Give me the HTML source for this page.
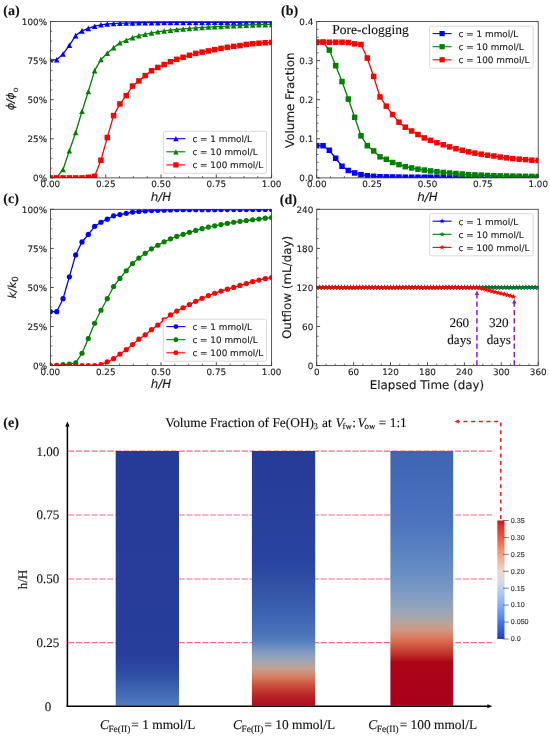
<!DOCTYPE html>
<html lang="en">
<head>
<meta charset="utf-8">
<title>Figure</title>
<style>
html,body{margin:0;padding:0;background:#fff;}
body{width:550px;height:738px;overflow:hidden;}
svg{display:block;}
text{stroke:#1a1a1a;stroke-width:0.13px;paint-order:stroke fill;}
</style>
</head>
<body>
<svg width="550" height="738" viewBox="0 0 550 738" text-rendering="geometricPrecision">
<rect width="550" height="738" fill="#fff"/>
<defs><clipPath id="clip_a"><rect x="50.40" y="21.50" width="221.20" height="156.40"/></clipPath><clipPath id="clip_b"><rect x="316.70" y="21.50" width="221.50" height="156.40"/></clipPath><clipPath id="clip_c"><rect x="50.40" y="209.30" width="221.20" height="156.30"/></clipPath><clipPath id="clip_d"><rect x="316.70" y="209.30" width="221.50" height="156.30"/></clipPath></defs>
<!-- panel a -->
<g clip-path="url(#clip_a)">
<polyline fill="none" stroke="#0000ff" stroke-width="1.30" stroke-linejoin="round" points="50.40,59.82 56.72,59.82 63.04,54.03 69.36,45.27 75.68,35.58 82.00,30.88 88.32,28.38 94.64,26.19 100.96,24.78 107.28,24.00 113.60,23.53 119.92,23.22 126.24,23.06 132.56,22.91 138.88,22.75 145.20,22.70 151.52,22.65 157.84,22.59 164.16,22.54 170.48,22.49 176.80,22.44 183.12,22.42 189.44,22.40 195.76,22.38 202.08,22.35 208.40,22.33 214.72,22.31 221.04,22.29 227.36,22.27 233.68,22.25 240.00,22.23 246.32,22.21 252.64,22.19 258.96,22.17 265.28,22.15 271.60,22.13"/>
<path d="M50.40 57.02L53.20 62.62L47.60 62.62Z" fill="#0000ff"/><path d="M56.72 57.02L59.52 62.62L53.92 62.62Z" fill="#0000ff"/><path d="M63.04 51.23L65.84 56.83L60.24 56.83Z" fill="#0000ff"/><path d="M69.36 42.47L72.16 48.07L66.56 48.07Z" fill="#0000ff"/><path d="M75.68 32.78L78.48 38.38L72.88 38.38Z" fill="#0000ff"/><path d="M82.00 28.08L84.80 33.68L79.20 33.68Z" fill="#0000ff"/><path d="M88.32 25.58L91.12 31.18L85.52 31.18Z" fill="#0000ff"/><path d="M94.64 23.39L97.44 28.99L91.84 28.99Z" fill="#0000ff"/><path d="M100.96 21.98L103.76 27.58L98.16 27.58Z" fill="#0000ff"/><path d="M107.28 21.20L110.08 26.80L104.48 26.80Z" fill="#0000ff"/><path d="M113.60 20.73L116.40 26.33L110.80 26.33Z" fill="#0000ff"/><path d="M119.92 20.42L122.72 26.02L117.12 26.02Z" fill="#0000ff"/><path d="M126.24 20.26L129.04 25.86L123.44 25.86Z" fill="#0000ff"/><path d="M132.56 20.11L135.36 25.71L129.76 25.71Z" fill="#0000ff"/><path d="M138.88 19.95L141.68 25.55L136.08 25.55Z" fill="#0000ff"/><path d="M145.20 19.90L148.00 25.50L142.40 25.50Z" fill="#0000ff"/><path d="M151.52 19.85L154.32 25.45L148.72 25.45Z" fill="#0000ff"/><path d="M157.84 19.79L160.64 25.39L155.04 25.39Z" fill="#0000ff"/><path d="M164.16 19.74L166.96 25.34L161.36 25.34Z" fill="#0000ff"/><path d="M170.48 19.69L173.28 25.29L167.68 25.29Z" fill="#0000ff"/><path d="M176.80 19.64L179.60 25.24L174.00 25.24Z" fill="#0000ff"/><path d="M183.12 19.62L185.92 25.22L180.32 25.22Z" fill="#0000ff"/><path d="M189.44 19.60L192.24 25.20L186.64 25.20Z" fill="#0000ff"/><path d="M195.76 19.58L198.56 25.18L192.96 25.18Z" fill="#0000ff"/><path d="M202.08 19.55L204.88 25.15L199.28 25.15Z" fill="#0000ff"/><path d="M208.40 19.53L211.20 25.13L205.60 25.13Z" fill="#0000ff"/><path d="M214.72 19.51L217.52 25.11L211.92 25.11Z" fill="#0000ff"/><path d="M221.04 19.49L223.84 25.09L218.24 25.09Z" fill="#0000ff"/><path d="M227.36 19.47L230.16 25.07L224.56 25.07Z" fill="#0000ff"/><path d="M233.68 19.45L236.48 25.05L230.88 25.05Z" fill="#0000ff"/><path d="M240.00 19.43L242.80 25.03L237.20 25.03Z" fill="#0000ff"/><path d="M246.32 19.41L249.12 25.01L243.52 25.01Z" fill="#0000ff"/><path d="M252.64 19.39L255.44 24.99L249.84 24.99Z" fill="#0000ff"/><path d="M258.96 19.37L261.76 24.97L256.16 24.97Z" fill="#0000ff"/><path d="M265.28 19.35L268.08 24.95L262.48 24.95Z" fill="#0000ff"/><path d="M271.60 19.33L274.40 24.93L268.80 24.93Z" fill="#0000ff"/></g>
<g clip-path="url(#clip_a)">
<polyline fill="none" stroke="#008000" stroke-width="1.30" stroke-linejoin="round" points="50.40,177.43 56.72,177.43 63.04,169.45 69.36,150.69 75.68,132.54 82.00,111.27 88.32,91.57 94.64,70.61 100.96,59.51 107.28,53.25 113.60,47.62 119.92,42.77 126.24,40.27 132.56,37.61 138.88,35.58 145.20,34.32 151.52,32.92 157.84,31.82 164.16,30.88 170.48,30.10 176.80,29.48 183.12,28.93 189.44,28.38 195.76,27.91 202.08,27.44 208.40,27.05 214.72,26.66 221.04,26.35 227.36,26.04 233.68,25.72 240.00,25.41 246.32,25.18 252.64,24.94 258.96,24.78 265.28,24.63 271.60,24.47"/>
<path d="M50.40 174.63L53.20 180.23L47.60 180.23Z" fill="#008000"/><path d="M56.72 174.63L59.52 180.23L53.92 180.23Z" fill="#008000"/><path d="M63.04 166.65L65.84 172.25L60.24 172.25Z" fill="#008000"/><path d="M69.36 147.89L72.16 153.49L66.56 153.49Z" fill="#008000"/><path d="M75.68 129.74L78.48 135.34L72.88 135.34Z" fill="#008000"/><path d="M82.00 108.47L84.80 114.07L79.20 114.07Z" fill="#008000"/><path d="M88.32 88.77L91.12 94.37L85.52 94.37Z" fill="#008000"/><path d="M94.64 67.81L97.44 73.41L91.84 73.41Z" fill="#008000"/><path d="M100.96 56.71L103.76 62.31L98.16 62.31Z" fill="#008000"/><path d="M107.28 50.45L110.08 56.05L104.48 56.05Z" fill="#008000"/><path d="M113.60 44.82L116.40 50.42L110.80 50.42Z" fill="#008000"/><path d="M119.92 39.97L122.72 45.57L117.12 45.57Z" fill="#008000"/><path d="M126.24 37.47L129.04 43.07L123.44 43.07Z" fill="#008000"/><path d="M132.56 34.81L135.36 40.41L129.76 40.41Z" fill="#008000"/><path d="M138.88 32.78L141.68 38.38L136.08 38.38Z" fill="#008000"/><path d="M145.20 31.52L148.00 37.12L142.40 37.12Z" fill="#008000"/><path d="M151.52 30.12L154.32 35.72L148.72 35.72Z" fill="#008000"/><path d="M157.84 29.02L160.64 34.62L155.04 34.62Z" fill="#008000"/><path d="M164.16 28.08L166.96 33.68L161.36 33.68Z" fill="#008000"/><path d="M170.48 27.30L173.28 32.90L167.68 32.90Z" fill="#008000"/><path d="M176.80 26.68L179.60 32.28L174.00 32.28Z" fill="#008000"/><path d="M183.12 26.13L185.92 31.73L180.32 31.73Z" fill="#008000"/><path d="M189.44 25.58L192.24 31.18L186.64 31.18Z" fill="#008000"/><path d="M195.76 25.11L198.56 30.71L192.96 30.71Z" fill="#008000"/><path d="M202.08 24.64L204.88 30.24L199.28 30.24Z" fill="#008000"/><path d="M208.40 24.25L211.20 29.85L205.60 29.85Z" fill="#008000"/><path d="M214.72 23.86L217.52 29.46L211.92 29.46Z" fill="#008000"/><path d="M221.04 23.55L223.84 29.15L218.24 29.15Z" fill="#008000"/><path d="M227.36 23.24L230.16 28.84L224.56 28.84Z" fill="#008000"/><path d="M233.68 22.92L236.48 28.52L230.88 28.52Z" fill="#008000"/><path d="M240.00 22.61L242.80 28.21L237.20 28.21Z" fill="#008000"/><path d="M246.32 22.38L249.12 27.98L243.52 27.98Z" fill="#008000"/><path d="M252.64 22.14L255.44 27.74L249.84 27.74Z" fill="#008000"/><path d="M258.96 21.98L261.76 27.58L256.16 27.58Z" fill="#008000"/><path d="M265.28 21.83L268.08 27.43L262.48 27.43Z" fill="#008000"/><path d="M271.60 21.67L274.40 27.27L268.80 27.27Z" fill="#008000"/></g>
<g clip-path="url(#clip_a)">
<polyline fill="none" stroke="#ff0000" stroke-width="1.30" stroke-linejoin="round" points="50.40,177.90 56.72,177.90 63.04,177.90 69.36,177.90 75.68,177.90 82.00,177.90 88.32,177.27 94.64,176.34 100.96,160.23 107.28,137.55 113.60,115.65 119.92,103.92 126.24,95.63 132.56,86.09 138.88,80.93 145.20,75.61 151.52,70.77 157.84,67.48 164.16,64.51 170.48,61.69 176.80,59.35 183.12,57.32 189.44,55.28 195.76,53.41 202.08,52.15 208.40,50.90 214.72,49.65 221.04,48.40 227.36,47.31 233.68,46.37 240.00,45.59 246.32,44.49 252.64,43.71 258.96,43.24 265.28,42.77 271.60,42.46"/>
<rect x="47.65" y="175.15" width="5.50" height="5.50" fill="#ff0000"/><rect x="53.97" y="175.15" width="5.50" height="5.50" fill="#ff0000"/><rect x="60.29" y="175.15" width="5.50" height="5.50" fill="#ff0000"/><rect x="66.61" y="175.15" width="5.50" height="5.50" fill="#ff0000"/><rect x="72.93" y="175.15" width="5.50" height="5.50" fill="#ff0000"/><rect x="79.25" y="175.15" width="5.50" height="5.50" fill="#ff0000"/><rect x="85.57" y="174.52" width="5.50" height="5.50" fill="#ff0000"/><rect x="91.89" y="173.59" width="5.50" height="5.50" fill="#ff0000"/><rect x="98.21" y="157.48" width="5.50" height="5.50" fill="#ff0000"/><rect x="104.53" y="134.80" width="5.50" height="5.50" fill="#ff0000"/><rect x="110.85" y="112.90" width="5.50" height="5.50" fill="#ff0000"/><rect x="117.17" y="101.17" width="5.50" height="5.50" fill="#ff0000"/><rect x="123.49" y="92.88" width="5.50" height="5.50" fill="#ff0000"/><rect x="129.81" y="83.34" width="5.50" height="5.50" fill="#ff0000"/><rect x="136.13" y="78.18" width="5.50" height="5.50" fill="#ff0000"/><rect x="142.45" y="72.86" width="5.50" height="5.50" fill="#ff0000"/><rect x="148.77" y="68.02" width="5.50" height="5.50" fill="#ff0000"/><rect x="155.09" y="64.73" width="5.50" height="5.50" fill="#ff0000"/><rect x="161.41" y="61.76" width="5.50" height="5.50" fill="#ff0000"/><rect x="167.73" y="58.94" width="5.50" height="5.50" fill="#ff0000"/><rect x="174.05" y="56.60" width="5.50" height="5.50" fill="#ff0000"/><rect x="180.37" y="54.57" width="5.50" height="5.50" fill="#ff0000"/><rect x="186.69" y="52.53" width="5.50" height="5.50" fill="#ff0000"/><rect x="193.01" y="50.66" width="5.50" height="5.50" fill="#ff0000"/><rect x="199.33" y="49.40" width="5.50" height="5.50" fill="#ff0000"/><rect x="205.65" y="48.15" width="5.50" height="5.50" fill="#ff0000"/><rect x="211.97" y="46.90" width="5.50" height="5.50" fill="#ff0000"/><rect x="218.29" y="45.65" width="5.50" height="5.50" fill="#ff0000"/><rect x="224.61" y="44.56" width="5.50" height="5.50" fill="#ff0000"/><rect x="230.93" y="43.62" width="5.50" height="5.50" fill="#ff0000"/><rect x="237.25" y="42.84" width="5.50" height="5.50" fill="#ff0000"/><rect x="243.57" y="41.74" width="5.50" height="5.50" fill="#ff0000"/><rect x="249.89" y="40.96" width="5.50" height="5.50" fill="#ff0000"/><rect x="256.21" y="40.49" width="5.50" height="5.50" fill="#ff0000"/><rect x="262.53" y="40.02" width="5.50" height="5.50" fill="#ff0000"/><rect x="268.85" y="39.71" width="5.50" height="5.50" fill="#ff0000"/></g>
<path d="M50.40 177.90v-3.40M105.70 177.90v-3.40M161.00 177.90v-3.40M216.30 177.90v-3.40M271.60 177.90v-3.40M50.40 177.90h3.40M50.40 138.80h3.40M50.40 99.70h3.40M50.40 60.60h3.40M50.40 21.50h3.40" stroke="#3a3a3a" stroke-width="0.9" fill="none"/>
<path d="M64.22 177.90v-1.90M78.05 177.90v-1.90M91.88 177.90v-1.90M119.53 177.90v-1.90M133.35 177.90v-1.90M147.18 177.90v-1.90M174.83 177.90v-1.90M188.65 177.90v-1.90M202.48 177.90v-1.90M230.13 177.90v-1.90M243.95 177.90v-1.90M257.78 177.90v-1.90M50.40 168.12h1.90M50.40 158.35h1.90M50.40 148.57h1.90M50.40 129.03h1.90M50.40 119.25h1.90M50.40 109.48h1.90M50.40 89.92h1.90M50.40 80.15h1.90M50.40 70.38h1.90M50.40 50.83h1.90M50.40 41.05h1.90M50.40 31.28h1.90" stroke="#3a3a3a" stroke-width="0.7" fill="none"/>
<rect x="50.40" y="21.50" width="221.20" height="156.40" fill="none" stroke="#3a3a3a" stroke-width="0.85"/>
<g font-family="DejaVu Sans, Liberation Sans, sans-serif" font-size="8.8" fill="#1a1a1a">
<text x="50.40" y="187.40" text-anchor="middle">0.00</text>
<text x="105.70" y="187.40" text-anchor="middle">0.25</text>
<text x="161.00" y="187.40" text-anchor="middle">0.50</text>
<text x="216.30" y="187.40" text-anchor="middle">0.75</text>
<text x="271.60" y="187.40" text-anchor="middle">1.00</text>
<text x="47.00" y="181.40" text-anchor="end">0%</text>
<text x="47.00" y="142.30" text-anchor="end">25%</text>
<text x="47.00" y="103.20" text-anchor="end">50%</text>
<text x="47.00" y="64.10" text-anchor="end">75%</text>
<text x="47.00" y="25.00" text-anchor="end">100%</text>
</g>
<rect x="163.40" y="131.30" width="103.10" height="42.00" rx="1.6" fill="#fff" fill-opacity="0.8" stroke="#d0d0d0" stroke-width="0.8"/>
<path d="M166.40 138.70h19" stroke="#0000ff" stroke-width="1.1"/>
<path d="M175.90 136.04L178.56 141.36L173.24 141.36Z" fill="#0000ff"/>
<text x="192.40" y="142.00" font-family="DejaVu Sans, Liberation Sans, sans-serif" font-size="8.9" fill="#1a1a1a">c = 1 mmol/L</text>
<path d="M166.40 151.80h19" stroke="#008000" stroke-width="1.1"/>
<path d="M175.90 149.14L178.56 154.46L173.24 154.46Z" fill="#008000"/>
<text x="192.40" y="155.10" font-family="DejaVu Sans, Liberation Sans, sans-serif" font-size="8.9" fill="#1a1a1a">c = 10 mmol/L</text>
<path d="M166.40 164.90h19" stroke="#ff0000" stroke-width="1.1"/>
<rect x="173.29" y="162.29" width="5.22" height="5.22" fill="#ff0000"/>
<text x="192.40" y="168.20" font-family="DejaVu Sans, Liberation Sans, sans-serif" font-size="8.9" fill="#1a1a1a">c = 100 mmol/L</text>
<text x="3.30" y="14.90" font-family="Liberation Serif, DejaVu Serif, serif" font-size="14" font-weight="bold" fill="#111">(a)</text>
<text x="161" y="201" text-anchor="middle" font-family="DejaVu Sans, Liberation Sans, sans-serif" font-size="11.9" font-style="italic" fill="#1a1a1a">h/H</text>
<text transform="translate(14.4 98.8) rotate(-90)" text-anchor="middle" font-family="DejaVu Sans, Liberation Sans, sans-serif" font-size="10.7" font-style="italic" fill="#1a1a1a">ϕ/ϕ<tspan font-size="7.8" dy="3.2" font-style="normal">o</tspan></text>
<!-- panel b -->
<g clip-path="url(#clip_b)">
<polyline fill="none" stroke="#0000ff" stroke-width="1.30" stroke-linejoin="round" points="316.70,145.68 323.03,145.68 329.36,150.30 335.69,158.27 342.01,166.25 348.34,170.47 354.67,172.97 361.00,174.65 367.33,175.71 373.66,176.34 379.99,176.73 386.31,176.84 392.64,176.96 398.97,177.08 405.30,177.20 411.63,177.21 417.96,177.23 424.29,177.24 430.61,177.26 436.94,177.27 443.27,177.29 449.60,177.30 455.93,177.32 462.26,177.33 468.59,177.35 474.91,177.36 481.24,177.37 487.57,177.39 493.90,177.40 500.23,177.42 506.56,177.43 512.89,177.45 519.21,177.46 525.54,177.48 531.87,177.49 538.20,177.51"/>
<rect x="313.95" y="142.93" width="5.50" height="5.50" fill="#0000ff"/><rect x="320.28" y="142.93" width="5.50" height="5.50" fill="#0000ff"/><rect x="326.61" y="147.55" width="5.50" height="5.50" fill="#0000ff"/><rect x="332.94" y="155.52" width="5.50" height="5.50" fill="#0000ff"/><rect x="339.26" y="163.50" width="5.50" height="5.50" fill="#0000ff"/><rect x="345.59" y="167.72" width="5.50" height="5.50" fill="#0000ff"/><rect x="351.92" y="170.22" width="5.50" height="5.50" fill="#0000ff"/><rect x="358.25" y="171.90" width="5.50" height="5.50" fill="#0000ff"/><rect x="364.58" y="172.96" width="5.50" height="5.50" fill="#0000ff"/><rect x="370.91" y="173.59" width="5.50" height="5.50" fill="#0000ff"/><rect x="377.24" y="173.98" width="5.50" height="5.50" fill="#0000ff"/><rect x="383.56" y="174.09" width="5.50" height="5.50" fill="#0000ff"/><rect x="389.89" y="174.21" width="5.50" height="5.50" fill="#0000ff"/><rect x="396.22" y="174.33" width="5.50" height="5.50" fill="#0000ff"/><rect x="402.55" y="174.45" width="5.50" height="5.50" fill="#0000ff"/><rect x="408.88" y="174.46" width="5.50" height="5.50" fill="#0000ff"/><rect x="415.21" y="174.48" width="5.50" height="5.50" fill="#0000ff"/><rect x="421.54" y="174.49" width="5.50" height="5.50" fill="#0000ff"/><rect x="427.86" y="174.51" width="5.50" height="5.50" fill="#0000ff"/><rect x="434.19" y="174.52" width="5.50" height="5.50" fill="#0000ff"/><rect x="440.52" y="174.54" width="5.50" height="5.50" fill="#0000ff"/><rect x="446.85" y="174.55" width="5.50" height="5.50" fill="#0000ff"/><rect x="453.18" y="174.57" width="5.50" height="5.50" fill="#0000ff"/><rect x="459.51" y="174.58" width="5.50" height="5.50" fill="#0000ff"/><rect x="465.84" y="174.60" width="5.50" height="5.50" fill="#0000ff"/><rect x="472.16" y="174.61" width="5.50" height="5.50" fill="#0000ff"/><rect x="478.49" y="174.62" width="5.50" height="5.50" fill="#0000ff"/><rect x="484.82" y="174.64" width="5.50" height="5.50" fill="#0000ff"/><rect x="491.15" y="174.65" width="5.50" height="5.50" fill="#0000ff"/><rect x="497.48" y="174.67" width="5.50" height="5.50" fill="#0000ff"/><rect x="503.81" y="174.68" width="5.50" height="5.50" fill="#0000ff"/><rect x="510.14" y="174.70" width="5.50" height="5.50" fill="#0000ff"/><rect x="516.46" y="174.71" width="5.50" height="5.50" fill="#0000ff"/><rect x="522.79" y="174.73" width="5.50" height="5.50" fill="#0000ff"/><rect x="529.12" y="174.74" width="5.50" height="5.50" fill="#0000ff"/><rect x="535.45" y="174.76" width="5.50" height="5.50" fill="#0000ff"/></g>
<g clip-path="url(#clip_b)">
<polyline fill="none" stroke="#008000" stroke-width="1.30" stroke-linejoin="round" points="316.70,42.22 323.03,42.22 329.36,50.12 335.69,65.68 342.01,81.56 348.34,99.07 354.67,117.33 361.00,135.83 367.33,145.68 373.66,150.92 379.99,156.83 386.31,159.33 392.64,162.49 398.97,164.61 405.30,166.68 411.63,167.93 417.96,169.18 424.29,170.08 430.61,170.94 436.94,171.72 443.27,172.43 449.60,173.01 455.93,173.53 462.26,174.06 468.59,174.58 474.91,174.87 481.24,175.16 487.57,175.46 493.90,175.75 500.23,175.86 506.56,175.97 512.89,176.08 519.21,176.20 525.54,176.31 531.87,176.42 538.20,176.53"/>
<rect x="313.95" y="39.47" width="5.50" height="5.50" fill="#008000"/><rect x="320.28" y="39.47" width="5.50" height="5.50" fill="#008000"/><rect x="326.61" y="47.37" width="5.50" height="5.50" fill="#008000"/><rect x="332.94" y="62.93" width="5.50" height="5.50" fill="#008000"/><rect x="339.26" y="78.81" width="5.50" height="5.50" fill="#008000"/><rect x="345.59" y="96.32" width="5.50" height="5.50" fill="#008000"/><rect x="351.92" y="114.58" width="5.50" height="5.50" fill="#008000"/><rect x="358.25" y="133.08" width="5.50" height="5.50" fill="#008000"/><rect x="364.58" y="142.93" width="5.50" height="5.50" fill="#008000"/><rect x="370.91" y="148.17" width="5.50" height="5.50" fill="#008000"/><rect x="377.24" y="154.08" width="5.50" height="5.50" fill="#008000"/><rect x="383.56" y="156.58" width="5.50" height="5.50" fill="#008000"/><rect x="389.89" y="159.74" width="5.50" height="5.50" fill="#008000"/><rect x="396.22" y="161.86" width="5.50" height="5.50" fill="#008000"/><rect x="402.55" y="163.93" width="5.50" height="5.50" fill="#008000"/><rect x="408.88" y="165.18" width="5.50" height="5.50" fill="#008000"/><rect x="415.21" y="166.43" width="5.50" height="5.50" fill="#008000"/><rect x="421.54" y="167.33" width="5.50" height="5.50" fill="#008000"/><rect x="427.86" y="168.19" width="5.50" height="5.50" fill="#008000"/><rect x="434.19" y="168.97" width="5.50" height="5.50" fill="#008000"/><rect x="440.52" y="169.68" width="5.50" height="5.50" fill="#008000"/><rect x="446.85" y="170.26" width="5.50" height="5.50" fill="#008000"/><rect x="453.18" y="170.78" width="5.50" height="5.50" fill="#008000"/><rect x="459.51" y="171.31" width="5.50" height="5.50" fill="#008000"/><rect x="465.84" y="171.83" width="5.50" height="5.50" fill="#008000"/><rect x="472.16" y="172.12" width="5.50" height="5.50" fill="#008000"/><rect x="478.49" y="172.41" width="5.50" height="5.50" fill="#008000"/><rect x="484.82" y="172.71" width="5.50" height="5.50" fill="#008000"/><rect x="491.15" y="173.00" width="5.50" height="5.50" fill="#008000"/><rect x="497.48" y="173.11" width="5.50" height="5.50" fill="#008000"/><rect x="503.81" y="173.22" width="5.50" height="5.50" fill="#008000"/><rect x="510.14" y="173.33" width="5.50" height="5.50" fill="#008000"/><rect x="516.46" y="173.45" width="5.50" height="5.50" fill="#008000"/><rect x="522.79" y="173.56" width="5.50" height="5.50" fill="#008000"/><rect x="529.12" y="173.67" width="5.50" height="5.50" fill="#008000"/><rect x="535.45" y="173.78" width="5.50" height="5.50" fill="#008000"/></g>
<g clip-path="url(#clip_b)">
<polyline fill="none" stroke="#ff0000" stroke-width="1.30" stroke-linejoin="round" points="316.70,42.22 323.03,42.22 329.36,42.22 335.69,42.22 342.01,42.22 348.34,42.54 354.67,43.87 361.00,44.49 367.33,58.06 373.66,76.44 379.99,96.96 386.31,106.19 392.64,114.56 398.97,122.18 405.30,127.19 411.63,130.98 417.96,134.50 424.29,137.90 430.61,140.36 436.94,142.71 443.27,144.78 449.60,146.89 455.93,148.69 462.26,150.26 468.59,151.82 474.91,153.15 481.24,154.17 487.57,155.22 493.90,156.00 500.23,157.06 506.56,157.84 512.89,158.62 519.21,159.13 525.54,159.64 531.87,160.19 538.20,160.42"/>
<rect x="313.95" y="39.47" width="5.50" height="5.50" fill="#ff0000"/><rect x="320.28" y="39.47" width="5.50" height="5.50" fill="#ff0000"/><rect x="326.61" y="39.47" width="5.50" height="5.50" fill="#ff0000"/><rect x="332.94" y="39.47" width="5.50" height="5.50" fill="#ff0000"/><rect x="339.26" y="39.47" width="5.50" height="5.50" fill="#ff0000"/><rect x="345.59" y="39.79" width="5.50" height="5.50" fill="#ff0000"/><rect x="351.92" y="41.12" width="5.50" height="5.50" fill="#ff0000"/><rect x="358.25" y="41.74" width="5.50" height="5.50" fill="#ff0000"/><rect x="364.58" y="55.31" width="5.50" height="5.50" fill="#ff0000"/><rect x="370.91" y="73.69" width="5.50" height="5.50" fill="#ff0000"/><rect x="377.24" y="94.21" width="5.50" height="5.50" fill="#ff0000"/><rect x="383.56" y="103.44" width="5.50" height="5.50" fill="#ff0000"/><rect x="389.89" y="111.81" width="5.50" height="5.50" fill="#ff0000"/><rect x="396.22" y="119.43" width="5.50" height="5.50" fill="#ff0000"/><rect x="402.55" y="124.44" width="5.50" height="5.50" fill="#ff0000"/><rect x="408.88" y="128.23" width="5.50" height="5.50" fill="#ff0000"/><rect x="415.21" y="131.75" width="5.50" height="5.50" fill="#ff0000"/><rect x="421.54" y="135.15" width="5.50" height="5.50" fill="#ff0000"/><rect x="427.86" y="137.61" width="5.50" height="5.50" fill="#ff0000"/><rect x="434.19" y="139.96" width="5.50" height="5.50" fill="#ff0000"/><rect x="440.52" y="142.03" width="5.50" height="5.50" fill="#ff0000"/><rect x="446.85" y="144.14" width="5.50" height="5.50" fill="#ff0000"/><rect x="453.18" y="145.94" width="5.50" height="5.50" fill="#ff0000"/><rect x="459.51" y="147.51" width="5.50" height="5.50" fill="#ff0000"/><rect x="465.84" y="149.07" width="5.50" height="5.50" fill="#ff0000"/><rect x="472.16" y="150.40" width="5.50" height="5.50" fill="#ff0000"/><rect x="478.49" y="151.42" width="5.50" height="5.50" fill="#ff0000"/><rect x="484.82" y="152.47" width="5.50" height="5.50" fill="#ff0000"/><rect x="491.15" y="153.25" width="5.50" height="5.50" fill="#ff0000"/><rect x="497.48" y="154.31" width="5.50" height="5.50" fill="#ff0000"/><rect x="503.81" y="155.09" width="5.50" height="5.50" fill="#ff0000"/><rect x="510.14" y="155.87" width="5.50" height="5.50" fill="#ff0000"/><rect x="516.46" y="156.38" width="5.50" height="5.50" fill="#ff0000"/><rect x="522.79" y="156.89" width="5.50" height="5.50" fill="#ff0000"/><rect x="529.12" y="157.44" width="5.50" height="5.50" fill="#ff0000"/><rect x="535.45" y="157.67" width="5.50" height="5.50" fill="#ff0000"/></g>
<path d="M316.70 177.90v-3.40M372.07 177.90v-3.40M427.45 177.90v-3.40M482.83 177.90v-3.40M538.20 177.90v-3.40M316.70 177.90h3.40M316.70 138.80h3.40M316.70 99.70h3.40M316.70 60.60h3.40M316.70 21.50h3.40" stroke="#3a3a3a" stroke-width="0.9" fill="none"/>
<path d="M330.54 177.90v-1.90M344.39 177.90v-1.90M358.23 177.90v-1.90M385.92 177.90v-1.90M399.76 177.90v-1.90M413.61 177.90v-1.90M441.29 177.90v-1.90M455.14 177.90v-1.90M468.98 177.90v-1.90M496.67 177.90v-1.90M510.51 177.90v-1.90M524.36 177.90v-1.90M316.70 170.08h1.90M316.70 162.26h1.90M316.70 154.44h1.90M316.70 146.62h1.90M316.70 130.98h1.90M316.70 123.16h1.90M316.70 115.34h1.90M316.70 107.52h1.90M316.70 91.88h1.90M316.70 84.06h1.90M316.70 76.24h1.90M316.70 68.42h1.90M316.70 52.78h1.90M316.70 44.96h1.90M316.70 37.14h1.90M316.70 29.32h1.90" stroke="#3a3a3a" stroke-width="0.7" fill="none"/>
<rect x="316.70" y="21.50" width="221.50" height="156.40" fill="none" stroke="#3a3a3a" stroke-width="0.85"/>
<g font-family="DejaVu Sans, Liberation Sans, sans-serif" font-size="8.8" fill="#1a1a1a">
<text x="316.70" y="187.40" text-anchor="middle">0.00</text>
<text x="372.07" y="187.40" text-anchor="middle">0.25</text>
<text x="427.45" y="187.40" text-anchor="middle">0.50</text>
<text x="482.83" y="187.40" text-anchor="middle">0.75</text>
<text x="538.20" y="187.40" text-anchor="middle">1.00</text>
<text x="313.30" y="181.40" text-anchor="end">0.0</text>
<text x="313.30" y="142.30" text-anchor="end">0.1</text>
<text x="313.30" y="103.20" text-anchor="end">0.2</text>
<text x="313.30" y="64.10" text-anchor="end">0.3</text>
<text x="313.30" y="25.00" text-anchor="end">0.4</text>
</g>
<rect x="429.60" y="26.20" width="103.60" height="42.00" rx="1.6" fill="#fff" fill-opacity="0.8" stroke="#d0d0d0" stroke-width="0.8"/>
<path d="M432.60 33.60h19" stroke="#0000ff" stroke-width="1.1"/>
<rect x="439.49" y="30.99" width="5.22" height="5.22" fill="#0000ff"/>
<text x="458.60" y="36.90" font-family="DejaVu Sans, Liberation Sans, sans-serif" font-size="8.9" fill="#1a1a1a">c = 1 mmol/L</text>
<path d="M432.60 46.70h19" stroke="#008000" stroke-width="1.1"/>
<rect x="439.49" y="44.09" width="5.22" height="5.22" fill="#008000"/>
<text x="458.60" y="50.00" font-family="DejaVu Sans, Liberation Sans, sans-serif" font-size="8.9" fill="#1a1a1a">c = 10 mmol/L</text>
<path d="M432.60 59.80h19" stroke="#ff0000" stroke-width="1.1"/>
<rect x="439.49" y="57.19" width="5.22" height="5.22" fill="#ff0000"/>
<text x="458.60" y="63.10" font-family="DejaVu Sans, Liberation Sans, sans-serif" font-size="8.9" fill="#1a1a1a">c = 100 mmol/L</text>
<text x="281.00" y="14.90" font-family="Liberation Serif, DejaVu Serif, serif" font-size="14" font-weight="bold" fill="#111">(b)</text>
<text x="427.5" y="201" text-anchor="middle" font-family="DejaVu Sans, Liberation Sans, sans-serif" font-size="11.9" font-style="italic" fill="#1a1a1a">h/H</text>
<text transform="translate(293.8 100.2) rotate(-90)" text-anchor="middle" font-family="DejaVu Sans, Liberation Sans, sans-serif" font-size="11.9" fill="#1a1a1a">Volume Fraction</text>
<text x="332.3" y="34.3" font-family="Liberation Serif, DejaVu Serif, serif" font-size="13.5" fill="#111">Pore-clogging</text>
<!-- panel c -->
<g clip-path="url(#clip_c)">
<polyline fill="none" stroke="#0000ff" stroke-width="1.30" stroke-linejoin="round" points="50.40,311.68 56.72,311.68 63.04,298.70 69.36,276.82 75.68,254.94 82.00,241.97 88.32,234.46 94.64,226.34 100.96,222.27 107.28,219.15 113.60,215.86 119.92,214.61 126.24,213.36 132.56,212.11 138.88,211.49 145.20,211.02 151.52,210.55 157.84,210.36 164.16,210.16 170.48,209.96 176.80,209.77 183.12,209.75 189.44,209.73 195.76,209.71 202.08,209.69 208.40,209.66 214.72,209.64 221.04,209.62 227.36,209.60 233.68,209.58 240.00,209.56 246.32,209.54 252.64,209.52 258.96,209.50 265.28,209.48 271.60,209.46"/>
<circle cx="50.40" cy="311.68" r="2.60" fill="#0000ff"/><circle cx="56.72" cy="311.68" r="2.60" fill="#0000ff"/><circle cx="63.04" cy="298.70" r="2.60" fill="#0000ff"/><circle cx="69.36" cy="276.82" r="2.60" fill="#0000ff"/><circle cx="75.68" cy="254.94" r="2.60" fill="#0000ff"/><circle cx="82.00" cy="241.97" r="2.60" fill="#0000ff"/><circle cx="88.32" cy="234.46" r="2.60" fill="#0000ff"/><circle cx="94.64" cy="226.34" r="2.60" fill="#0000ff"/><circle cx="100.96" cy="222.27" r="2.60" fill="#0000ff"/><circle cx="107.28" cy="219.15" r="2.60" fill="#0000ff"/><circle cx="113.60" cy="215.86" r="2.60" fill="#0000ff"/><circle cx="119.92" cy="214.61" r="2.60" fill="#0000ff"/><circle cx="126.24" cy="213.36" r="2.60" fill="#0000ff"/><circle cx="132.56" cy="212.11" r="2.60" fill="#0000ff"/><circle cx="138.88" cy="211.49" r="2.60" fill="#0000ff"/><circle cx="145.20" cy="211.02" r="2.60" fill="#0000ff"/><circle cx="151.52" cy="210.55" r="2.60" fill="#0000ff"/><circle cx="157.84" cy="210.36" r="2.60" fill="#0000ff"/><circle cx="164.16" cy="210.16" r="2.60" fill="#0000ff"/><circle cx="170.48" cy="209.96" r="2.60" fill="#0000ff"/><circle cx="176.80" cy="209.77" r="2.60" fill="#0000ff"/><circle cx="183.12" cy="209.75" r="2.60" fill="#0000ff"/><circle cx="189.44" cy="209.73" r="2.60" fill="#0000ff"/><circle cx="195.76" cy="209.71" r="2.60" fill="#0000ff"/><circle cx="202.08" cy="209.69" r="2.60" fill="#0000ff"/><circle cx="208.40" cy="209.66" r="2.60" fill="#0000ff"/><circle cx="214.72" cy="209.64" r="2.60" fill="#0000ff"/><circle cx="221.04" cy="209.62" r="2.60" fill="#0000ff"/><circle cx="227.36" cy="209.60" r="2.60" fill="#0000ff"/><circle cx="233.68" cy="209.58" r="2.60" fill="#0000ff"/><circle cx="240.00" cy="209.56" r="2.60" fill="#0000ff"/><circle cx="246.32" cy="209.54" r="2.60" fill="#0000ff"/><circle cx="252.64" cy="209.52" r="2.60" fill="#0000ff"/><circle cx="258.96" cy="209.50" r="2.60" fill="#0000ff"/><circle cx="265.28" cy="209.48" r="2.60" fill="#0000ff"/><circle cx="271.60" cy="209.46" r="2.60" fill="#0000ff"/></g>
<g clip-path="url(#clip_c)">
<polyline fill="none" stroke="#008000" stroke-width="1.30" stroke-linejoin="round" points="50.40,365.60 56.72,365.29 63.04,364.66 69.36,364.04 75.68,362.79 82.00,353.25 88.32,338.56 94.64,323.24 100.96,310.27 107.28,298.70 113.60,286.51 119.92,278.38 126.24,270.73 132.56,263.54 138.88,258.07 145.20,253.45 151.52,248.84 157.84,245.25 164.16,241.81 170.48,238.84 176.80,236.34 183.12,234.31 189.44,232.28 195.76,230.40 202.08,228.68 208.40,227.12 214.72,225.87 221.04,224.62 227.36,223.37 233.68,222.27 240.00,221.34 246.32,220.55 252.64,219.77 258.96,218.99 265.28,218.21 271.60,217.58"/>
<circle cx="50.40" cy="365.60" r="2.60" fill="#008000"/><circle cx="56.72" cy="365.29" r="2.60" fill="#008000"/><circle cx="63.04" cy="364.66" r="2.60" fill="#008000"/><circle cx="69.36" cy="364.04" r="2.60" fill="#008000"/><circle cx="75.68" cy="362.79" r="2.60" fill="#008000"/><circle cx="82.00" cy="353.25" r="2.60" fill="#008000"/><circle cx="88.32" cy="338.56" r="2.60" fill="#008000"/><circle cx="94.64" cy="323.24" r="2.60" fill="#008000"/><circle cx="100.96" cy="310.27" r="2.60" fill="#008000"/><circle cx="107.28" cy="298.70" r="2.60" fill="#008000"/><circle cx="113.60" cy="286.51" r="2.60" fill="#008000"/><circle cx="119.92" cy="278.38" r="2.60" fill="#008000"/><circle cx="126.24" cy="270.73" r="2.60" fill="#008000"/><circle cx="132.56" cy="263.54" r="2.60" fill="#008000"/><circle cx="138.88" cy="258.07" r="2.60" fill="#008000"/><circle cx="145.20" cy="253.45" r="2.60" fill="#008000"/><circle cx="151.52" cy="248.84" r="2.60" fill="#008000"/><circle cx="157.84" cy="245.25" r="2.60" fill="#008000"/><circle cx="164.16" cy="241.81" r="2.60" fill="#008000"/><circle cx="170.48" cy="238.84" r="2.60" fill="#008000"/><circle cx="176.80" cy="236.34" r="2.60" fill="#008000"/><circle cx="183.12" cy="234.31" r="2.60" fill="#008000"/><circle cx="189.44" cy="232.28" r="2.60" fill="#008000"/><circle cx="195.76" cy="230.40" r="2.60" fill="#008000"/><circle cx="202.08" cy="228.68" r="2.60" fill="#008000"/><circle cx="208.40" cy="227.12" r="2.60" fill="#008000"/><circle cx="214.72" cy="225.87" r="2.60" fill="#008000"/><circle cx="221.04" cy="224.62" r="2.60" fill="#008000"/><circle cx="227.36" cy="223.37" r="2.60" fill="#008000"/><circle cx="233.68" cy="222.27" r="2.60" fill="#008000"/><circle cx="240.00" cy="221.34" r="2.60" fill="#008000"/><circle cx="246.32" cy="220.55" r="2.60" fill="#008000"/><circle cx="252.64" cy="219.77" r="2.60" fill="#008000"/><circle cx="258.96" cy="218.99" r="2.60" fill="#008000"/><circle cx="265.28" cy="218.21" r="2.60" fill="#008000"/><circle cx="271.60" cy="217.58" r="2.60" fill="#008000"/></g>
<g clip-path="url(#clip_c)">
<polyline fill="none" stroke="#ff0000" stroke-width="1.30" stroke-linejoin="round" points="50.40,365.60 56.72,365.60 63.04,365.60 69.36,365.60 75.68,365.60 82.00,365.60 88.32,365.60 94.64,365.60 100.96,364.66 107.28,361.85 113.60,358.72 119.92,354.03 126.24,349.66 132.56,344.50 138.88,339.19 145.20,334.81 151.52,329.65 157.84,325.12 164.16,319.96 170.48,314.96 176.80,311.05 183.12,307.77 189.44,304.49 195.76,301.36 202.08,298.23 208.40,295.58 214.72,293.23 221.04,291.04 227.36,289.17 233.68,287.45 240.00,285.42 246.32,283.54 252.64,281.67 258.96,280.10 265.28,278.70 271.60,277.60"/>
<circle cx="50.40" cy="365.60" r="2.60" fill="#ff0000"/><circle cx="56.72" cy="365.60" r="2.60" fill="#ff0000"/><circle cx="63.04" cy="365.60" r="2.60" fill="#ff0000"/><circle cx="69.36" cy="365.60" r="2.60" fill="#ff0000"/><circle cx="75.68" cy="365.60" r="2.60" fill="#ff0000"/><circle cx="82.00" cy="365.60" r="2.60" fill="#ff0000"/><circle cx="88.32" cy="365.60" r="2.60" fill="#ff0000"/><circle cx="94.64" cy="365.60" r="2.60" fill="#ff0000"/><circle cx="100.96" cy="364.66" r="2.60" fill="#ff0000"/><circle cx="107.28" cy="361.85" r="2.60" fill="#ff0000"/><circle cx="113.60" cy="358.72" r="2.60" fill="#ff0000"/><circle cx="119.92" cy="354.03" r="2.60" fill="#ff0000"/><circle cx="126.24" cy="349.66" r="2.60" fill="#ff0000"/><circle cx="132.56" cy="344.50" r="2.60" fill="#ff0000"/><circle cx="138.88" cy="339.19" r="2.60" fill="#ff0000"/><circle cx="145.20" cy="334.81" r="2.60" fill="#ff0000"/><circle cx="151.52" cy="329.65" r="2.60" fill="#ff0000"/><circle cx="157.84" cy="325.12" r="2.60" fill="#ff0000"/><circle cx="164.16" cy="319.96" r="2.60" fill="#ff0000"/><circle cx="170.48" cy="314.96" r="2.60" fill="#ff0000"/><circle cx="176.80" cy="311.05" r="2.60" fill="#ff0000"/><circle cx="183.12" cy="307.77" r="2.60" fill="#ff0000"/><circle cx="189.44" cy="304.49" r="2.60" fill="#ff0000"/><circle cx="195.76" cy="301.36" r="2.60" fill="#ff0000"/><circle cx="202.08" cy="298.23" r="2.60" fill="#ff0000"/><circle cx="208.40" cy="295.58" r="2.60" fill="#ff0000"/><circle cx="214.72" cy="293.23" r="2.60" fill="#ff0000"/><circle cx="221.04" cy="291.04" r="2.60" fill="#ff0000"/><circle cx="227.36" cy="289.17" r="2.60" fill="#ff0000"/><circle cx="233.68" cy="287.45" r="2.60" fill="#ff0000"/><circle cx="240.00" cy="285.42" r="2.60" fill="#ff0000"/><circle cx="246.32" cy="283.54" r="2.60" fill="#ff0000"/><circle cx="252.64" cy="281.67" r="2.60" fill="#ff0000"/><circle cx="258.96" cy="280.10" r="2.60" fill="#ff0000"/><circle cx="265.28" cy="278.70" r="2.60" fill="#ff0000"/><circle cx="271.60" cy="277.60" r="2.60" fill="#ff0000"/></g>
<path d="M50.40 365.60v-3.40M105.70 365.60v-3.40M161.00 365.60v-3.40M216.30 365.60v-3.40M271.60 365.60v-3.40M50.40 365.60h3.40M50.40 326.53h3.40M50.40 287.45h3.40M50.40 248.38h3.40M50.40 209.30h3.40" stroke="#3a3a3a" stroke-width="0.9" fill="none"/>
<path d="M64.22 365.60v-1.90M78.05 365.60v-1.90M91.88 365.60v-1.90M119.53 365.60v-1.90M133.35 365.60v-1.90M147.18 365.60v-1.90M174.83 365.60v-1.90M188.65 365.60v-1.90M202.48 365.60v-1.90M230.13 365.60v-1.90M243.95 365.60v-1.90M257.78 365.60v-1.90M50.40 355.83h1.90M50.40 346.06h1.90M50.40 336.29h1.90M50.40 316.76h1.90M50.40 306.99h1.90M50.40 297.22h1.90M50.40 277.68h1.90M50.40 267.91h1.90M50.40 258.14h1.90M50.40 238.61h1.90M50.40 228.84h1.90M50.40 219.07h1.90" stroke="#3a3a3a" stroke-width="0.7" fill="none"/>
<rect x="50.40" y="209.30" width="221.20" height="156.30" fill="none" stroke="#3a3a3a" stroke-width="0.85"/>
<g font-family="DejaVu Sans, Liberation Sans, sans-serif" font-size="8.8" fill="#1a1a1a">
<text x="50.40" y="375.10" text-anchor="middle">0.00</text>
<text x="105.70" y="375.10" text-anchor="middle">0.25</text>
<text x="161.00" y="375.10" text-anchor="middle">0.50</text>
<text x="216.30" y="375.10" text-anchor="middle">0.75</text>
<text x="271.60" y="375.10" text-anchor="middle">1.00</text>
<text x="47.00" y="369.10" text-anchor="end">0%</text>
<text x="47.00" y="330.03" text-anchor="end">25%</text>
<text x="47.00" y="290.95" text-anchor="end">50%</text>
<text x="47.00" y="251.88" text-anchor="end">75%</text>
<text x="47.00" y="212.80" text-anchor="end">100%</text>
</g>
<rect x="163.40" y="319.20" width="103.10" height="42.00" rx="1.6" fill="#fff" fill-opacity="0.8" stroke="#d0d0d0" stroke-width="0.8"/>
<path d="M166.40 326.60h19" stroke="#0000ff" stroke-width="1.1"/>
<circle cx="175.90" cy="326.60" r="2.47" fill="#0000ff"/>
<text x="192.40" y="329.90" font-family="DejaVu Sans, Liberation Sans, sans-serif" font-size="8.9" fill="#1a1a1a">c = 1 mmol/L</text>
<path d="M166.40 339.70h19" stroke="#008000" stroke-width="1.1"/>
<circle cx="175.90" cy="339.70" r="2.47" fill="#008000"/>
<text x="192.40" y="343.00" font-family="DejaVu Sans, Liberation Sans, sans-serif" font-size="8.9" fill="#1a1a1a">c = 10 mmol/L</text>
<path d="M166.40 352.80h19" stroke="#ff0000" stroke-width="1.1"/>
<circle cx="175.90" cy="352.80" r="2.47" fill="#ff0000"/>
<text x="192.40" y="356.10" font-family="DejaVu Sans, Liberation Sans, sans-serif" font-size="8.9" fill="#1a1a1a">c = 100 mmol/L</text>
<text x="3.30" y="203.00" font-family="Liberation Serif, DejaVu Serif, serif" font-size="14" font-weight="bold" fill="#111">(c)</text>
<text x="161" y="388" text-anchor="middle" font-family="DejaVu Sans, Liberation Sans, sans-serif" font-size="11.9" font-style="italic" fill="#1a1a1a">h/H</text>
<text transform="translate(15.8 287.4) rotate(-90)" text-anchor="middle" font-family="DejaVu Sans, Liberation Sans, sans-serif" font-size="11.1" font-style="italic" fill="#1a1a1a">k/k<tspan font-size="8.5" dy="2.6" font-style="normal">0</tspan></text>
<!-- panel d -->
<g clip-path="url(#clip_d)">
<polyline fill="none" stroke="#0000ff" stroke-width="1.30" stroke-linejoin="round" points="316.70,287.45 319.78,287.45 322.85,287.45 325.93,287.45 329.01,287.45 332.08,287.45 335.16,287.45 338.23,287.45 341.31,287.45 344.39,287.45 347.46,287.45 350.54,287.45 353.62,287.45 356.69,287.45 359.77,287.45 362.85,287.45 365.92,287.45 369.00,287.45 372.07,287.45 375.15,287.45 378.23,287.45 381.30,287.45 384.38,287.45 387.46,287.45 390.53,287.45 393.61,287.45 396.69,287.45 399.76,287.45 402.84,287.45 405.92,287.45 408.99,287.45 412.07,287.45 415.14,287.45 418.22,287.45 421.30,287.45 424.37,287.45 427.45,287.45 430.53,287.45 433.60,287.45 436.68,287.45 439.76,287.45 442.83,287.45 445.91,287.45 448.98,287.45 452.06,287.45 455.14,287.45 458.21,287.45 461.29,287.45 464.37,287.45 467.44,287.45 470.52,287.45 473.60,287.45 476.67,287.45 479.75,287.45 482.83,287.45 485.90,287.45 488.98,287.45 492.05,287.45 495.13,287.45 498.21,287.45 501.28,287.45 504.36,287.45 507.44,287.45 510.51,287.45 513.59,287.45 516.67,287.45 519.74,287.45 522.82,287.45 525.89,287.45 528.97,287.45 532.05,287.45 535.12,287.45 538.20,287.45"/>
<polygon points="316.70,284.45 317.37,286.52 319.55,286.52 317.79,287.80 318.46,289.88 316.70,288.60 314.94,289.88 315.61,287.80 313.85,286.52 316.03,286.52" fill="#0000ff"/><polygon points="319.78,284.45 320.45,286.52 322.63,286.52 320.87,287.80 321.54,289.88 319.78,288.60 318.01,289.88 318.69,287.80 316.92,286.52 319.10,286.52" fill="#0000ff"/><polygon points="322.85,284.45 323.53,286.52 325.71,286.52 323.94,287.80 324.62,289.88 322.85,288.60 321.09,289.88 321.76,287.80 320.00,286.52 322.18,286.52" fill="#0000ff"/><polygon points="325.93,284.45 326.60,286.52 328.78,286.52 327.02,287.80 327.69,289.88 325.93,288.60 324.17,289.88 324.84,287.80 323.08,286.52 325.26,286.52" fill="#0000ff"/><polygon points="329.01,284.45 329.68,286.52 331.86,286.52 330.10,287.80 330.77,289.88 329.01,288.60 327.24,289.88 327.92,287.80 326.15,286.52 328.33,286.52" fill="#0000ff"/><polygon points="332.08,284.45 332.76,286.52 334.94,286.52 333.17,287.80 333.85,289.88 332.08,288.60 330.32,289.88 330.99,287.80 329.23,286.52 331.41,286.52" fill="#0000ff"/><polygon points="335.16,284.45 335.83,286.52 338.01,286.52 336.25,287.80 336.92,289.88 335.16,288.60 333.39,289.88 334.07,287.80 332.31,286.52 334.48,286.52" fill="#0000ff"/><polygon points="338.23,284.45 338.91,286.52 341.09,286.52 339.32,287.80 340.00,289.88 338.23,288.60 336.47,289.88 337.14,287.80 335.38,286.52 337.56,286.52" fill="#0000ff"/><polygon points="341.31,284.45 341.98,286.52 344.16,286.52 342.40,287.80 343.07,289.88 341.31,288.60 339.55,289.88 340.22,287.80 338.46,286.52 340.64,286.52" fill="#0000ff"/><polygon points="344.39,284.45 345.06,286.52 347.24,286.52 345.48,287.80 346.15,289.88 344.39,288.60 342.62,289.88 343.30,287.80 341.53,286.52 343.71,286.52" fill="#0000ff"/><polygon points="347.46,284.45 348.14,286.52 350.32,286.52 348.55,287.80 349.23,289.88 347.46,288.60 345.70,289.88 346.37,287.80 344.61,286.52 346.79,286.52" fill="#0000ff"/><polygon points="350.54,284.45 351.21,286.52 353.39,286.52 351.63,287.80 352.30,289.88 350.54,288.60 348.78,289.88 349.45,287.80 347.69,286.52 349.87,286.52" fill="#0000ff"/><polygon points="353.62,284.45 354.29,286.52 356.47,286.52 354.71,287.80 355.38,289.88 353.62,288.60 351.85,289.88 352.53,287.80 350.76,286.52 352.94,286.52" fill="#0000ff"/><polygon points="356.69,284.45 357.37,286.52 359.55,286.52 357.78,287.80 358.46,289.88 356.69,288.60 354.93,289.88 355.60,287.80 353.84,286.52 356.02,286.52" fill="#0000ff"/><polygon points="359.77,284.45 360.44,286.52 362.62,286.52 360.86,287.80 361.53,289.88 359.77,288.60 358.01,289.88 358.68,287.80 356.92,286.52 359.10,286.52" fill="#0000ff"/><polygon points="362.85,284.45 363.52,286.52 365.70,286.52 363.94,287.80 364.61,289.88 362.85,288.60 361.08,289.88 361.76,287.80 359.99,286.52 362.17,286.52" fill="#0000ff"/><polygon points="365.92,284.45 366.60,286.52 368.78,286.52 367.01,287.80 367.69,289.88 365.92,288.60 364.16,289.88 364.83,287.80 363.07,286.52 365.25,286.52" fill="#0000ff"/><polygon points="369.00,284.45 369.67,286.52 371.85,286.52 370.09,287.80 370.76,289.88 369.00,288.60 367.24,289.88 367.91,287.80 366.15,286.52 368.33,286.52" fill="#0000ff"/><polygon points="372.07,284.45 372.75,286.52 374.93,286.52 373.16,287.80 373.84,289.88 372.07,288.60 370.31,289.88 370.99,287.80 369.22,286.52 371.40,286.52" fill="#0000ff"/><polygon points="375.15,284.45 375.82,286.52 378.00,286.52 376.24,287.80 376.91,289.88 375.15,288.60 373.39,289.88 374.06,287.80 372.30,286.52 374.48,286.52" fill="#0000ff"/><polygon points="378.23,284.45 378.90,286.52 381.08,286.52 379.32,287.80 379.99,289.88 378.23,288.60 376.46,289.88 377.14,287.80 375.37,286.52 377.55,286.52" fill="#0000ff"/><polygon points="381.30,284.45 381.98,286.52 384.16,286.52 382.39,287.80 383.07,289.88 381.30,288.60 379.54,289.88 380.21,287.80 378.45,286.52 380.63,286.52" fill="#0000ff"/><polygon points="384.38,284.45 385.05,286.52 387.23,286.52 385.47,287.80 386.14,289.88 384.38,288.60 382.62,289.88 383.29,287.80 381.53,286.52 383.71,286.52" fill="#0000ff"/><polygon points="387.46,284.45 388.13,286.52 390.31,286.52 388.55,287.80 389.22,289.88 387.46,288.60 385.69,289.88 386.37,287.80 384.60,286.52 386.78,286.52" fill="#0000ff"/><polygon points="390.53,284.45 391.21,286.52 393.39,286.52 391.62,287.80 392.30,289.88 390.53,288.60 388.77,289.88 389.44,287.80 387.68,286.52 389.86,286.52" fill="#0000ff"/><polygon points="393.61,284.45 394.28,286.52 396.46,286.52 394.70,287.80 395.37,289.88 393.61,288.60 391.85,289.88 392.52,287.80 390.76,286.52 392.94,286.52" fill="#0000ff"/><polygon points="396.69,284.45 397.36,286.52 399.54,286.52 397.78,287.80 398.45,289.88 396.69,288.60 394.92,289.88 395.60,287.80 393.83,286.52 396.01,286.52" fill="#0000ff"/><polygon points="399.76,284.45 400.44,286.52 402.62,286.52 400.85,287.80 401.53,289.88 399.76,288.60 398.00,289.88 398.67,287.80 396.91,286.52 399.09,286.52" fill="#0000ff"/><polygon points="402.84,284.45 403.51,286.52 405.69,286.52 403.93,287.80 404.60,289.88 402.84,288.60 401.08,289.88 401.75,287.80 399.99,286.52 402.17,286.52" fill="#0000ff"/><polygon points="405.92,284.45 406.59,286.52 408.77,286.52 407.01,287.80 407.68,289.88 405.92,288.60 404.15,289.88 404.83,287.80 403.06,286.52 405.24,286.52" fill="#0000ff"/><polygon points="408.99,284.45 409.67,286.52 411.84,286.52 410.08,287.80 410.76,289.88 408.99,288.60 407.23,289.88 407.90,287.80 406.14,286.52 408.32,286.52" fill="#0000ff"/><polygon points="412.07,284.45 412.74,286.52 414.92,286.52 413.16,287.80 413.83,289.88 412.07,288.60 410.30,289.88 410.98,287.80 409.21,286.52 411.39,286.52" fill="#0000ff"/><polygon points="415.14,284.45 415.82,286.52 418.00,286.52 416.23,287.80 416.91,289.88 415.14,288.60 413.38,289.88 414.05,287.80 412.29,286.52 414.47,286.52" fill="#0000ff"/><polygon points="418.22,284.45 418.89,286.52 421.07,286.52 419.31,287.80 419.98,289.88 418.22,288.60 416.46,289.88 417.13,287.80 415.37,286.52 417.55,286.52" fill="#0000ff"/><polygon points="421.30,284.45 421.97,286.52 424.15,286.52 422.39,287.80 423.06,289.88 421.30,288.60 419.53,289.88 420.21,287.80 418.44,286.52 420.62,286.52" fill="#0000ff"/><polygon points="424.37,284.45 425.05,286.52 427.23,286.52 425.46,287.80 426.14,289.88 424.37,288.60 422.61,289.88 423.28,287.80 421.52,286.52 423.70,286.52" fill="#0000ff"/><polygon points="427.45,284.45 428.12,286.52 430.30,286.52 428.54,287.80 429.21,289.88 427.45,288.60 425.69,289.88 426.36,287.80 424.60,286.52 426.78,286.52" fill="#0000ff"/><polygon points="430.53,284.45 431.20,286.52 433.38,286.52 431.62,287.80 432.29,289.88 430.53,288.60 428.76,289.88 429.44,287.80 427.67,286.52 429.85,286.52" fill="#0000ff"/><polygon points="433.60,284.45 434.28,286.52 436.46,286.52 434.69,287.80 435.37,289.88 433.60,288.60 431.84,289.88 432.51,287.80 430.75,286.52 432.93,286.52" fill="#0000ff"/><polygon points="436.68,284.45 437.35,286.52 439.53,286.52 437.77,287.80 438.44,289.88 436.68,288.60 434.92,289.88 435.59,287.80 433.83,286.52 436.01,286.52" fill="#0000ff"/><polygon points="439.76,284.45 440.43,286.52 442.61,286.52 440.85,287.80 441.52,289.88 439.76,288.60 437.99,289.88 438.67,287.80 436.90,286.52 439.08,286.52" fill="#0000ff"/><polygon points="442.83,284.45 443.51,286.52 445.69,286.52 443.92,287.80 444.60,289.88 442.83,288.60 441.07,289.88 441.74,287.80 439.98,286.52 442.16,286.52" fill="#0000ff"/><polygon points="445.91,284.45 446.58,286.52 448.76,286.52 447.00,287.80 447.67,289.88 445.91,288.60 444.14,289.88 444.82,287.80 443.06,286.52 445.23,286.52" fill="#0000ff"/><polygon points="448.98,284.45 449.66,286.52 451.84,286.52 450.07,287.80 450.75,289.88 448.98,288.60 447.22,289.88 447.89,287.80 446.13,286.52 448.31,286.52" fill="#0000ff"/><polygon points="452.06,284.45 452.73,286.52 454.91,286.52 453.15,287.80 453.82,289.88 452.06,288.60 450.30,289.88 450.97,287.80 449.21,286.52 451.39,286.52" fill="#0000ff"/><polygon points="455.14,284.45 455.81,286.52 457.99,286.52 456.23,287.80 456.90,289.88 455.14,288.60 453.37,289.88 454.05,287.80 452.28,286.52 454.46,286.52" fill="#0000ff"/><polygon points="458.21,284.45 458.89,286.52 461.07,286.52 459.30,287.80 459.98,289.88 458.21,288.60 456.45,289.88 457.12,287.80 455.36,286.52 457.54,286.52" fill="#0000ff"/><polygon points="461.29,284.45 461.96,286.52 464.14,286.52 462.38,287.80 463.05,289.88 461.29,288.60 459.53,289.88 460.20,287.80 458.44,286.52 460.62,286.52" fill="#0000ff"/><polygon points="464.37,284.45 465.04,286.52 467.22,286.52 465.46,287.80 466.13,289.88 464.37,288.60 462.60,289.88 463.28,287.80 461.51,286.52 463.69,286.52" fill="#0000ff"/><polygon points="467.44,284.45 468.12,286.52 470.30,286.52 468.53,287.80 469.21,289.88 467.44,288.60 465.68,289.88 466.35,287.80 464.59,286.52 466.77,286.52" fill="#0000ff"/><polygon points="470.52,284.45 471.19,286.52 473.37,286.52 471.61,287.80 472.28,289.88 470.52,288.60 468.76,289.88 469.43,287.80 467.67,286.52 469.85,286.52" fill="#0000ff"/><polygon points="473.60,284.45 474.27,286.52 476.45,286.52 474.69,287.80 475.36,289.88 473.60,288.60 471.83,289.88 472.51,287.80 470.74,286.52 472.92,286.52" fill="#0000ff"/><polygon points="476.67,284.45 477.35,286.52 479.53,286.52 477.76,287.80 478.44,289.88 476.67,288.60 474.91,289.88 475.58,287.80 473.82,286.52 476.00,286.52" fill="#0000ff"/><polygon points="479.75,284.45 480.42,286.52 482.60,286.52 480.84,287.80 481.51,289.88 479.75,288.60 477.99,289.88 478.66,287.80 476.90,286.52 479.08,286.52" fill="#0000ff"/><polygon points="482.83,284.45 483.50,286.52 485.68,286.52 483.91,287.80 484.59,289.88 482.83,288.60 481.06,289.88 481.74,287.80 479.97,286.52 482.15,286.52" fill="#0000ff"/><polygon points="485.90,284.45 486.57,286.52 488.75,286.52 486.99,287.80 487.66,289.88 485.90,288.60 484.14,289.88 484.81,287.80 483.05,286.52 485.23,286.52" fill="#0000ff"/><polygon points="488.98,284.45 489.65,286.52 491.83,286.52 490.07,287.80 490.74,289.88 488.98,288.60 487.21,289.88 487.89,287.80 486.12,286.52 488.30,286.52" fill="#0000ff"/><polygon points="492.05,284.45 492.73,286.52 494.91,286.52 493.14,287.80 493.82,289.88 492.05,288.60 490.29,289.88 490.96,287.80 489.20,286.52 491.38,286.52" fill="#0000ff"/><polygon points="495.13,284.45 495.80,286.52 497.98,286.52 496.22,287.80 496.89,289.88 495.13,288.60 493.37,289.88 494.04,287.80 492.28,286.52 494.46,286.52" fill="#0000ff"/><polygon points="498.21,284.45 498.88,286.52 501.06,286.52 499.30,287.80 499.97,289.88 498.21,288.60 496.44,289.88 497.12,287.80 495.35,286.52 497.53,286.52" fill="#0000ff"/><polygon points="501.28,284.45 501.96,286.52 504.14,286.52 502.37,287.80 503.05,289.88 501.28,288.60 499.52,289.88 500.19,287.80 498.43,286.52 500.61,286.52" fill="#0000ff"/><polygon points="504.36,284.45 505.03,286.52 507.21,286.52 505.45,287.80 506.12,289.88 504.36,288.60 502.60,289.88 503.27,287.80 501.51,286.52 503.69,286.52" fill="#0000ff"/><polygon points="507.44,284.45 508.11,286.52 510.29,286.52 508.53,287.80 509.20,289.88 507.44,288.60 505.67,289.88 506.35,287.80 504.58,286.52 506.76,286.52" fill="#0000ff"/><polygon points="510.51,284.45 511.19,286.52 513.37,286.52 511.60,287.80 512.28,289.88 510.51,288.60 508.75,289.88 509.42,287.80 507.66,286.52 509.84,286.52" fill="#0000ff"/><polygon points="513.59,284.45 514.26,286.52 516.44,286.52 514.68,287.80 515.35,289.88 513.59,288.60 511.83,289.88 512.50,287.80 510.74,286.52 512.92,286.52" fill="#0000ff"/><polygon points="516.67,284.45 517.34,286.52 519.52,286.52 517.76,287.80 518.43,289.88 516.67,288.60 514.90,289.88 515.58,287.80 513.81,286.52 515.99,286.52" fill="#0000ff"/><polygon points="519.74,284.45 520.42,286.52 522.59,286.52 520.83,287.80 521.51,289.88 519.74,288.60 517.98,289.88 518.65,287.80 516.89,286.52 519.07,286.52" fill="#0000ff"/><polygon points="522.82,284.45 523.49,286.52 525.67,286.52 523.91,287.80 524.58,289.88 522.82,288.60 521.05,289.88 521.73,287.80 519.96,286.52 522.14,286.52" fill="#0000ff"/><polygon points="525.89,284.45 526.57,286.52 528.75,286.52 526.98,287.80 527.66,289.88 525.89,288.60 524.13,289.88 524.80,287.80 523.04,286.52 525.22,286.52" fill="#0000ff"/><polygon points="528.97,284.45 529.64,286.52 531.82,286.52 530.06,287.80 530.73,289.88 528.97,288.60 527.21,289.88 527.88,287.80 526.12,286.52 528.30,286.52" fill="#0000ff"/><polygon points="532.05,284.45 532.72,286.52 534.90,286.52 533.14,287.80 533.81,289.88 532.05,288.60 530.28,289.88 530.96,287.80 529.19,286.52 531.37,286.52" fill="#0000ff"/><polygon points="535.12,284.45 535.80,286.52 537.98,286.52 536.21,287.80 536.89,289.88 535.12,288.60 533.36,289.88 534.03,287.80 532.27,286.52 534.45,286.52" fill="#0000ff"/><polygon points="538.20,284.45 538.87,286.52 541.05,286.52 539.29,287.80 539.96,289.88 538.20,288.60 536.44,289.88 537.11,287.80 535.35,286.52 537.53,286.52" fill="#0000ff"/></g>
<g clip-path="url(#clip_d)">
<polyline fill="none" stroke="#008000" stroke-width="1.30" stroke-linejoin="round" points="316.70,287.45 319.78,287.45 322.85,287.45 325.93,287.45 329.01,287.45 332.08,287.45 335.16,287.45 338.23,287.45 341.31,287.45 344.39,287.45 347.46,287.45 350.54,287.45 353.62,287.45 356.69,287.45 359.77,287.45 362.85,287.45 365.92,287.45 369.00,287.45 372.07,287.45 375.15,287.45 378.23,287.45 381.30,287.45 384.38,287.45 387.46,287.45 390.53,287.45 393.61,287.45 396.69,287.45 399.76,287.45 402.84,287.45 405.92,287.45 408.99,287.45 412.07,287.45 415.14,287.45 418.22,287.45 421.30,287.45 424.37,287.45 427.45,287.45 430.53,287.45 433.60,287.45 436.68,287.45 439.76,287.45 442.83,287.45 445.91,287.45 448.98,287.45 452.06,287.45 455.14,287.45 458.21,287.45 461.29,287.45 464.37,287.45 467.44,287.45 470.52,287.45 473.60,287.45 476.67,287.45 479.75,287.45 482.83,287.45 485.90,287.45 488.98,287.45 492.05,287.45 495.13,287.45 498.21,287.45 501.28,287.45 504.36,287.45 507.44,287.45 510.51,287.45 513.59,287.45 516.67,287.45 519.74,287.45 522.82,287.45 525.89,287.45 528.97,287.45 532.05,287.45 535.12,287.45 538.20,287.45"/>
<polygon points="316.70,284.45 317.37,286.52 319.55,286.52 317.79,287.80 318.46,289.88 316.70,288.60 314.94,289.88 315.61,287.80 313.85,286.52 316.03,286.52" fill="#008000"/><polygon points="319.78,284.45 320.45,286.52 322.63,286.52 320.87,287.80 321.54,289.88 319.78,288.60 318.01,289.88 318.69,287.80 316.92,286.52 319.10,286.52" fill="#008000"/><polygon points="322.85,284.45 323.53,286.52 325.71,286.52 323.94,287.80 324.62,289.88 322.85,288.60 321.09,289.88 321.76,287.80 320.00,286.52 322.18,286.52" fill="#008000"/><polygon points="325.93,284.45 326.60,286.52 328.78,286.52 327.02,287.80 327.69,289.88 325.93,288.60 324.17,289.88 324.84,287.80 323.08,286.52 325.26,286.52" fill="#008000"/><polygon points="329.01,284.45 329.68,286.52 331.86,286.52 330.10,287.80 330.77,289.88 329.01,288.60 327.24,289.88 327.92,287.80 326.15,286.52 328.33,286.52" fill="#008000"/><polygon points="332.08,284.45 332.76,286.52 334.94,286.52 333.17,287.80 333.85,289.88 332.08,288.60 330.32,289.88 330.99,287.80 329.23,286.52 331.41,286.52" fill="#008000"/><polygon points="335.16,284.45 335.83,286.52 338.01,286.52 336.25,287.80 336.92,289.88 335.16,288.60 333.39,289.88 334.07,287.80 332.31,286.52 334.48,286.52" fill="#008000"/><polygon points="338.23,284.45 338.91,286.52 341.09,286.52 339.32,287.80 340.00,289.88 338.23,288.60 336.47,289.88 337.14,287.80 335.38,286.52 337.56,286.52" fill="#008000"/><polygon points="341.31,284.45 341.98,286.52 344.16,286.52 342.40,287.80 343.07,289.88 341.31,288.60 339.55,289.88 340.22,287.80 338.46,286.52 340.64,286.52" fill="#008000"/><polygon points="344.39,284.45 345.06,286.52 347.24,286.52 345.48,287.80 346.15,289.88 344.39,288.60 342.62,289.88 343.30,287.80 341.53,286.52 343.71,286.52" fill="#008000"/><polygon points="347.46,284.45 348.14,286.52 350.32,286.52 348.55,287.80 349.23,289.88 347.46,288.60 345.70,289.88 346.37,287.80 344.61,286.52 346.79,286.52" fill="#008000"/><polygon points="350.54,284.45 351.21,286.52 353.39,286.52 351.63,287.80 352.30,289.88 350.54,288.60 348.78,289.88 349.45,287.80 347.69,286.52 349.87,286.52" fill="#008000"/><polygon points="353.62,284.45 354.29,286.52 356.47,286.52 354.71,287.80 355.38,289.88 353.62,288.60 351.85,289.88 352.53,287.80 350.76,286.52 352.94,286.52" fill="#008000"/><polygon points="356.69,284.45 357.37,286.52 359.55,286.52 357.78,287.80 358.46,289.88 356.69,288.60 354.93,289.88 355.60,287.80 353.84,286.52 356.02,286.52" fill="#008000"/><polygon points="359.77,284.45 360.44,286.52 362.62,286.52 360.86,287.80 361.53,289.88 359.77,288.60 358.01,289.88 358.68,287.80 356.92,286.52 359.10,286.52" fill="#008000"/><polygon points="362.85,284.45 363.52,286.52 365.70,286.52 363.94,287.80 364.61,289.88 362.85,288.60 361.08,289.88 361.76,287.80 359.99,286.52 362.17,286.52" fill="#008000"/><polygon points="365.92,284.45 366.60,286.52 368.78,286.52 367.01,287.80 367.69,289.88 365.92,288.60 364.16,289.88 364.83,287.80 363.07,286.52 365.25,286.52" fill="#008000"/><polygon points="369.00,284.45 369.67,286.52 371.85,286.52 370.09,287.80 370.76,289.88 369.00,288.60 367.24,289.88 367.91,287.80 366.15,286.52 368.33,286.52" fill="#008000"/><polygon points="372.07,284.45 372.75,286.52 374.93,286.52 373.16,287.80 373.84,289.88 372.07,288.60 370.31,289.88 370.99,287.80 369.22,286.52 371.40,286.52" fill="#008000"/><polygon points="375.15,284.45 375.82,286.52 378.00,286.52 376.24,287.80 376.91,289.88 375.15,288.60 373.39,289.88 374.06,287.80 372.30,286.52 374.48,286.52" fill="#008000"/><polygon points="378.23,284.45 378.90,286.52 381.08,286.52 379.32,287.80 379.99,289.88 378.23,288.60 376.46,289.88 377.14,287.80 375.37,286.52 377.55,286.52" fill="#008000"/><polygon points="381.30,284.45 381.98,286.52 384.16,286.52 382.39,287.80 383.07,289.88 381.30,288.60 379.54,289.88 380.21,287.80 378.45,286.52 380.63,286.52" fill="#008000"/><polygon points="384.38,284.45 385.05,286.52 387.23,286.52 385.47,287.80 386.14,289.88 384.38,288.60 382.62,289.88 383.29,287.80 381.53,286.52 383.71,286.52" fill="#008000"/><polygon points="387.46,284.45 388.13,286.52 390.31,286.52 388.55,287.80 389.22,289.88 387.46,288.60 385.69,289.88 386.37,287.80 384.60,286.52 386.78,286.52" fill="#008000"/><polygon points="390.53,284.45 391.21,286.52 393.39,286.52 391.62,287.80 392.30,289.88 390.53,288.60 388.77,289.88 389.44,287.80 387.68,286.52 389.86,286.52" fill="#008000"/><polygon points="393.61,284.45 394.28,286.52 396.46,286.52 394.70,287.80 395.37,289.88 393.61,288.60 391.85,289.88 392.52,287.80 390.76,286.52 392.94,286.52" fill="#008000"/><polygon points="396.69,284.45 397.36,286.52 399.54,286.52 397.78,287.80 398.45,289.88 396.69,288.60 394.92,289.88 395.60,287.80 393.83,286.52 396.01,286.52" fill="#008000"/><polygon points="399.76,284.45 400.44,286.52 402.62,286.52 400.85,287.80 401.53,289.88 399.76,288.60 398.00,289.88 398.67,287.80 396.91,286.52 399.09,286.52" fill="#008000"/><polygon points="402.84,284.45 403.51,286.52 405.69,286.52 403.93,287.80 404.60,289.88 402.84,288.60 401.08,289.88 401.75,287.80 399.99,286.52 402.17,286.52" fill="#008000"/><polygon points="405.92,284.45 406.59,286.52 408.77,286.52 407.01,287.80 407.68,289.88 405.92,288.60 404.15,289.88 404.83,287.80 403.06,286.52 405.24,286.52" fill="#008000"/><polygon points="408.99,284.45 409.67,286.52 411.84,286.52 410.08,287.80 410.76,289.88 408.99,288.60 407.23,289.88 407.90,287.80 406.14,286.52 408.32,286.52" fill="#008000"/><polygon points="412.07,284.45 412.74,286.52 414.92,286.52 413.16,287.80 413.83,289.88 412.07,288.60 410.30,289.88 410.98,287.80 409.21,286.52 411.39,286.52" fill="#008000"/><polygon points="415.14,284.45 415.82,286.52 418.00,286.52 416.23,287.80 416.91,289.88 415.14,288.60 413.38,289.88 414.05,287.80 412.29,286.52 414.47,286.52" fill="#008000"/><polygon points="418.22,284.45 418.89,286.52 421.07,286.52 419.31,287.80 419.98,289.88 418.22,288.60 416.46,289.88 417.13,287.80 415.37,286.52 417.55,286.52" fill="#008000"/><polygon points="421.30,284.45 421.97,286.52 424.15,286.52 422.39,287.80 423.06,289.88 421.30,288.60 419.53,289.88 420.21,287.80 418.44,286.52 420.62,286.52" fill="#008000"/><polygon points="424.37,284.45 425.05,286.52 427.23,286.52 425.46,287.80 426.14,289.88 424.37,288.60 422.61,289.88 423.28,287.80 421.52,286.52 423.70,286.52" fill="#008000"/><polygon points="427.45,284.45 428.12,286.52 430.30,286.52 428.54,287.80 429.21,289.88 427.45,288.60 425.69,289.88 426.36,287.80 424.60,286.52 426.78,286.52" fill="#008000"/><polygon points="430.53,284.45 431.20,286.52 433.38,286.52 431.62,287.80 432.29,289.88 430.53,288.60 428.76,289.88 429.44,287.80 427.67,286.52 429.85,286.52" fill="#008000"/><polygon points="433.60,284.45 434.28,286.52 436.46,286.52 434.69,287.80 435.37,289.88 433.60,288.60 431.84,289.88 432.51,287.80 430.75,286.52 432.93,286.52" fill="#008000"/><polygon points="436.68,284.45 437.35,286.52 439.53,286.52 437.77,287.80 438.44,289.88 436.68,288.60 434.92,289.88 435.59,287.80 433.83,286.52 436.01,286.52" fill="#008000"/><polygon points="439.76,284.45 440.43,286.52 442.61,286.52 440.85,287.80 441.52,289.88 439.76,288.60 437.99,289.88 438.67,287.80 436.90,286.52 439.08,286.52" fill="#008000"/><polygon points="442.83,284.45 443.51,286.52 445.69,286.52 443.92,287.80 444.60,289.88 442.83,288.60 441.07,289.88 441.74,287.80 439.98,286.52 442.16,286.52" fill="#008000"/><polygon points="445.91,284.45 446.58,286.52 448.76,286.52 447.00,287.80 447.67,289.88 445.91,288.60 444.14,289.88 444.82,287.80 443.06,286.52 445.23,286.52" fill="#008000"/><polygon points="448.98,284.45 449.66,286.52 451.84,286.52 450.07,287.80 450.75,289.88 448.98,288.60 447.22,289.88 447.89,287.80 446.13,286.52 448.31,286.52" fill="#008000"/><polygon points="452.06,284.45 452.73,286.52 454.91,286.52 453.15,287.80 453.82,289.88 452.06,288.60 450.30,289.88 450.97,287.80 449.21,286.52 451.39,286.52" fill="#008000"/><polygon points="455.14,284.45 455.81,286.52 457.99,286.52 456.23,287.80 456.90,289.88 455.14,288.60 453.37,289.88 454.05,287.80 452.28,286.52 454.46,286.52" fill="#008000"/><polygon points="458.21,284.45 458.89,286.52 461.07,286.52 459.30,287.80 459.98,289.88 458.21,288.60 456.45,289.88 457.12,287.80 455.36,286.52 457.54,286.52" fill="#008000"/><polygon points="461.29,284.45 461.96,286.52 464.14,286.52 462.38,287.80 463.05,289.88 461.29,288.60 459.53,289.88 460.20,287.80 458.44,286.52 460.62,286.52" fill="#008000"/><polygon points="464.37,284.45 465.04,286.52 467.22,286.52 465.46,287.80 466.13,289.88 464.37,288.60 462.60,289.88 463.28,287.80 461.51,286.52 463.69,286.52" fill="#008000"/><polygon points="467.44,284.45 468.12,286.52 470.30,286.52 468.53,287.80 469.21,289.88 467.44,288.60 465.68,289.88 466.35,287.80 464.59,286.52 466.77,286.52" fill="#008000"/><polygon points="470.52,284.45 471.19,286.52 473.37,286.52 471.61,287.80 472.28,289.88 470.52,288.60 468.76,289.88 469.43,287.80 467.67,286.52 469.85,286.52" fill="#008000"/><polygon points="473.60,284.45 474.27,286.52 476.45,286.52 474.69,287.80 475.36,289.88 473.60,288.60 471.83,289.88 472.51,287.80 470.74,286.52 472.92,286.52" fill="#008000"/><polygon points="476.67,284.45 477.35,286.52 479.53,286.52 477.76,287.80 478.44,289.88 476.67,288.60 474.91,289.88 475.58,287.80 473.82,286.52 476.00,286.52" fill="#008000"/><polygon points="479.75,284.45 480.42,286.52 482.60,286.52 480.84,287.80 481.51,289.88 479.75,288.60 477.99,289.88 478.66,287.80 476.90,286.52 479.08,286.52" fill="#008000"/><polygon points="482.83,284.45 483.50,286.52 485.68,286.52 483.91,287.80 484.59,289.88 482.83,288.60 481.06,289.88 481.74,287.80 479.97,286.52 482.15,286.52" fill="#008000"/><polygon points="485.90,284.45 486.57,286.52 488.75,286.52 486.99,287.80 487.66,289.88 485.90,288.60 484.14,289.88 484.81,287.80 483.05,286.52 485.23,286.52" fill="#008000"/><polygon points="488.98,284.45 489.65,286.52 491.83,286.52 490.07,287.80 490.74,289.88 488.98,288.60 487.21,289.88 487.89,287.80 486.12,286.52 488.30,286.52" fill="#008000"/><polygon points="492.05,284.45 492.73,286.52 494.91,286.52 493.14,287.80 493.82,289.88 492.05,288.60 490.29,289.88 490.96,287.80 489.20,286.52 491.38,286.52" fill="#008000"/><polygon points="495.13,284.45 495.80,286.52 497.98,286.52 496.22,287.80 496.89,289.88 495.13,288.60 493.37,289.88 494.04,287.80 492.28,286.52 494.46,286.52" fill="#008000"/><polygon points="498.21,284.45 498.88,286.52 501.06,286.52 499.30,287.80 499.97,289.88 498.21,288.60 496.44,289.88 497.12,287.80 495.35,286.52 497.53,286.52" fill="#008000"/><polygon points="501.28,284.45 501.96,286.52 504.14,286.52 502.37,287.80 503.05,289.88 501.28,288.60 499.52,289.88 500.19,287.80 498.43,286.52 500.61,286.52" fill="#008000"/><polygon points="504.36,284.45 505.03,286.52 507.21,286.52 505.45,287.80 506.12,289.88 504.36,288.60 502.60,289.88 503.27,287.80 501.51,286.52 503.69,286.52" fill="#008000"/><polygon points="507.44,284.45 508.11,286.52 510.29,286.52 508.53,287.80 509.20,289.88 507.44,288.60 505.67,289.88 506.35,287.80 504.58,286.52 506.76,286.52" fill="#008000"/><polygon points="510.51,284.45 511.19,286.52 513.37,286.52 511.60,287.80 512.28,289.88 510.51,288.60 508.75,289.88 509.42,287.80 507.66,286.52 509.84,286.52" fill="#008000"/><polygon points="513.59,284.45 514.26,286.52 516.44,286.52 514.68,287.80 515.35,289.88 513.59,288.60 511.83,289.88 512.50,287.80 510.74,286.52 512.92,286.52" fill="#008000"/><polygon points="516.67,284.45 517.34,286.52 519.52,286.52 517.76,287.80 518.43,289.88 516.67,288.60 514.90,289.88 515.58,287.80 513.81,286.52 515.99,286.52" fill="#008000"/><polygon points="519.74,284.45 520.42,286.52 522.59,286.52 520.83,287.80 521.51,289.88 519.74,288.60 517.98,289.88 518.65,287.80 516.89,286.52 519.07,286.52" fill="#008000"/><polygon points="522.82,284.45 523.49,286.52 525.67,286.52 523.91,287.80 524.58,289.88 522.82,288.60 521.05,289.88 521.73,287.80 519.96,286.52 522.14,286.52" fill="#008000"/><polygon points="525.89,284.45 526.57,286.52 528.75,286.52 526.98,287.80 527.66,289.88 525.89,288.60 524.13,289.88 524.80,287.80 523.04,286.52 525.22,286.52" fill="#008000"/><polygon points="528.97,284.45 529.64,286.52 531.82,286.52 530.06,287.80 530.73,289.88 528.97,288.60 527.21,289.88 527.88,287.80 526.12,286.52 528.30,286.52" fill="#008000"/><polygon points="532.05,284.45 532.72,286.52 534.90,286.52 533.14,287.80 533.81,289.88 532.05,288.60 530.28,289.88 530.96,287.80 529.19,286.52 531.37,286.52" fill="#008000"/><polygon points="535.12,284.45 535.80,286.52 537.98,286.52 536.21,287.80 536.89,289.88 535.12,288.60 533.36,289.88 534.03,287.80 532.27,286.52 534.45,286.52" fill="#008000"/><polygon points="538.20,284.45 538.87,286.52 541.05,286.52 539.29,287.80 539.96,289.88 538.20,288.60 536.44,289.88 537.11,287.80 535.35,286.52 537.53,286.52" fill="#008000"/></g>
<g clip-path="url(#clip_d)">
<polyline fill="none" stroke="#ff0000" stroke-width="1.30" stroke-linejoin="round" points="316.70,287.45 319.78,287.45 322.85,287.45 325.93,287.45 329.01,287.45 332.08,287.45 335.16,287.45 338.23,287.45 341.31,287.45 344.39,287.45 347.46,287.45 350.54,287.45 353.62,287.45 356.69,287.45 359.77,287.45 362.85,287.45 365.92,287.45 369.00,287.45 372.07,287.45 375.15,287.45 378.23,287.45 381.30,287.45 384.38,287.45 387.46,287.45 390.53,287.45 393.61,287.45 396.69,287.45 399.76,287.45 402.84,287.45 405.92,287.45 408.99,287.45 412.07,287.45 415.14,287.45 418.22,287.45 421.30,287.45 424.37,287.45 427.45,287.45 430.53,287.45 433.60,287.45 436.68,287.45 439.76,287.45 442.83,287.45 445.91,287.45 448.98,287.45 452.06,287.45 455.14,287.45 458.21,287.45 461.29,287.45 464.37,287.45 467.44,287.45 470.52,287.45 473.60,287.45 476.67,287.45 479.75,288.21 482.83,288.97 485.90,289.73 488.98,290.49 492.05,291.25 495.13,292.01 498.21,292.77 501.28,293.53 504.36,294.29 507.44,295.05 510.51,295.81 513.59,296.57"/>
<polygon points="316.70,284.45 317.37,286.52 319.55,286.52 317.79,287.80 318.46,289.88 316.70,288.60 314.94,289.88 315.61,287.80 313.85,286.52 316.03,286.52" fill="#ff0000"/><polygon points="319.78,284.45 320.45,286.52 322.63,286.52 320.87,287.80 321.54,289.88 319.78,288.60 318.01,289.88 318.69,287.80 316.92,286.52 319.10,286.52" fill="#ff0000"/><polygon points="322.85,284.45 323.53,286.52 325.71,286.52 323.94,287.80 324.62,289.88 322.85,288.60 321.09,289.88 321.76,287.80 320.00,286.52 322.18,286.52" fill="#ff0000"/><polygon points="325.93,284.45 326.60,286.52 328.78,286.52 327.02,287.80 327.69,289.88 325.93,288.60 324.17,289.88 324.84,287.80 323.08,286.52 325.26,286.52" fill="#ff0000"/><polygon points="329.01,284.45 329.68,286.52 331.86,286.52 330.10,287.80 330.77,289.88 329.01,288.60 327.24,289.88 327.92,287.80 326.15,286.52 328.33,286.52" fill="#ff0000"/><polygon points="332.08,284.45 332.76,286.52 334.94,286.52 333.17,287.80 333.85,289.88 332.08,288.60 330.32,289.88 330.99,287.80 329.23,286.52 331.41,286.52" fill="#ff0000"/><polygon points="335.16,284.45 335.83,286.52 338.01,286.52 336.25,287.80 336.92,289.88 335.16,288.60 333.39,289.88 334.07,287.80 332.31,286.52 334.48,286.52" fill="#ff0000"/><polygon points="338.23,284.45 338.91,286.52 341.09,286.52 339.32,287.80 340.00,289.88 338.23,288.60 336.47,289.88 337.14,287.80 335.38,286.52 337.56,286.52" fill="#ff0000"/><polygon points="341.31,284.45 341.98,286.52 344.16,286.52 342.40,287.80 343.07,289.88 341.31,288.60 339.55,289.88 340.22,287.80 338.46,286.52 340.64,286.52" fill="#ff0000"/><polygon points="344.39,284.45 345.06,286.52 347.24,286.52 345.48,287.80 346.15,289.88 344.39,288.60 342.62,289.88 343.30,287.80 341.53,286.52 343.71,286.52" fill="#ff0000"/><polygon points="347.46,284.45 348.14,286.52 350.32,286.52 348.55,287.80 349.23,289.88 347.46,288.60 345.70,289.88 346.37,287.80 344.61,286.52 346.79,286.52" fill="#ff0000"/><polygon points="350.54,284.45 351.21,286.52 353.39,286.52 351.63,287.80 352.30,289.88 350.54,288.60 348.78,289.88 349.45,287.80 347.69,286.52 349.87,286.52" fill="#ff0000"/><polygon points="353.62,284.45 354.29,286.52 356.47,286.52 354.71,287.80 355.38,289.88 353.62,288.60 351.85,289.88 352.53,287.80 350.76,286.52 352.94,286.52" fill="#ff0000"/><polygon points="356.69,284.45 357.37,286.52 359.55,286.52 357.78,287.80 358.46,289.88 356.69,288.60 354.93,289.88 355.60,287.80 353.84,286.52 356.02,286.52" fill="#ff0000"/><polygon points="359.77,284.45 360.44,286.52 362.62,286.52 360.86,287.80 361.53,289.88 359.77,288.60 358.01,289.88 358.68,287.80 356.92,286.52 359.10,286.52" fill="#ff0000"/><polygon points="362.85,284.45 363.52,286.52 365.70,286.52 363.94,287.80 364.61,289.88 362.85,288.60 361.08,289.88 361.76,287.80 359.99,286.52 362.17,286.52" fill="#ff0000"/><polygon points="365.92,284.45 366.60,286.52 368.78,286.52 367.01,287.80 367.69,289.88 365.92,288.60 364.16,289.88 364.83,287.80 363.07,286.52 365.25,286.52" fill="#ff0000"/><polygon points="369.00,284.45 369.67,286.52 371.85,286.52 370.09,287.80 370.76,289.88 369.00,288.60 367.24,289.88 367.91,287.80 366.15,286.52 368.33,286.52" fill="#ff0000"/><polygon points="372.07,284.45 372.75,286.52 374.93,286.52 373.16,287.80 373.84,289.88 372.07,288.60 370.31,289.88 370.99,287.80 369.22,286.52 371.40,286.52" fill="#ff0000"/><polygon points="375.15,284.45 375.82,286.52 378.00,286.52 376.24,287.80 376.91,289.88 375.15,288.60 373.39,289.88 374.06,287.80 372.30,286.52 374.48,286.52" fill="#ff0000"/><polygon points="378.23,284.45 378.90,286.52 381.08,286.52 379.32,287.80 379.99,289.88 378.23,288.60 376.46,289.88 377.14,287.80 375.37,286.52 377.55,286.52" fill="#ff0000"/><polygon points="381.30,284.45 381.98,286.52 384.16,286.52 382.39,287.80 383.07,289.88 381.30,288.60 379.54,289.88 380.21,287.80 378.45,286.52 380.63,286.52" fill="#ff0000"/><polygon points="384.38,284.45 385.05,286.52 387.23,286.52 385.47,287.80 386.14,289.88 384.38,288.60 382.62,289.88 383.29,287.80 381.53,286.52 383.71,286.52" fill="#ff0000"/><polygon points="387.46,284.45 388.13,286.52 390.31,286.52 388.55,287.80 389.22,289.88 387.46,288.60 385.69,289.88 386.37,287.80 384.60,286.52 386.78,286.52" fill="#ff0000"/><polygon points="390.53,284.45 391.21,286.52 393.39,286.52 391.62,287.80 392.30,289.88 390.53,288.60 388.77,289.88 389.44,287.80 387.68,286.52 389.86,286.52" fill="#ff0000"/><polygon points="393.61,284.45 394.28,286.52 396.46,286.52 394.70,287.80 395.37,289.88 393.61,288.60 391.85,289.88 392.52,287.80 390.76,286.52 392.94,286.52" fill="#ff0000"/><polygon points="396.69,284.45 397.36,286.52 399.54,286.52 397.78,287.80 398.45,289.88 396.69,288.60 394.92,289.88 395.60,287.80 393.83,286.52 396.01,286.52" fill="#ff0000"/><polygon points="399.76,284.45 400.44,286.52 402.62,286.52 400.85,287.80 401.53,289.88 399.76,288.60 398.00,289.88 398.67,287.80 396.91,286.52 399.09,286.52" fill="#ff0000"/><polygon points="402.84,284.45 403.51,286.52 405.69,286.52 403.93,287.80 404.60,289.88 402.84,288.60 401.08,289.88 401.75,287.80 399.99,286.52 402.17,286.52" fill="#ff0000"/><polygon points="405.92,284.45 406.59,286.52 408.77,286.52 407.01,287.80 407.68,289.88 405.92,288.60 404.15,289.88 404.83,287.80 403.06,286.52 405.24,286.52" fill="#ff0000"/><polygon points="408.99,284.45 409.67,286.52 411.84,286.52 410.08,287.80 410.76,289.88 408.99,288.60 407.23,289.88 407.90,287.80 406.14,286.52 408.32,286.52" fill="#ff0000"/><polygon points="412.07,284.45 412.74,286.52 414.92,286.52 413.16,287.80 413.83,289.88 412.07,288.60 410.30,289.88 410.98,287.80 409.21,286.52 411.39,286.52" fill="#ff0000"/><polygon points="415.14,284.45 415.82,286.52 418.00,286.52 416.23,287.80 416.91,289.88 415.14,288.60 413.38,289.88 414.05,287.80 412.29,286.52 414.47,286.52" fill="#ff0000"/><polygon points="418.22,284.45 418.89,286.52 421.07,286.52 419.31,287.80 419.98,289.88 418.22,288.60 416.46,289.88 417.13,287.80 415.37,286.52 417.55,286.52" fill="#ff0000"/><polygon points="421.30,284.45 421.97,286.52 424.15,286.52 422.39,287.80 423.06,289.88 421.30,288.60 419.53,289.88 420.21,287.80 418.44,286.52 420.62,286.52" fill="#ff0000"/><polygon points="424.37,284.45 425.05,286.52 427.23,286.52 425.46,287.80 426.14,289.88 424.37,288.60 422.61,289.88 423.28,287.80 421.52,286.52 423.70,286.52" fill="#ff0000"/><polygon points="427.45,284.45 428.12,286.52 430.30,286.52 428.54,287.80 429.21,289.88 427.45,288.60 425.69,289.88 426.36,287.80 424.60,286.52 426.78,286.52" fill="#ff0000"/><polygon points="430.53,284.45 431.20,286.52 433.38,286.52 431.62,287.80 432.29,289.88 430.53,288.60 428.76,289.88 429.44,287.80 427.67,286.52 429.85,286.52" fill="#ff0000"/><polygon points="433.60,284.45 434.28,286.52 436.46,286.52 434.69,287.80 435.37,289.88 433.60,288.60 431.84,289.88 432.51,287.80 430.75,286.52 432.93,286.52" fill="#ff0000"/><polygon points="436.68,284.45 437.35,286.52 439.53,286.52 437.77,287.80 438.44,289.88 436.68,288.60 434.92,289.88 435.59,287.80 433.83,286.52 436.01,286.52" fill="#ff0000"/><polygon points="439.76,284.45 440.43,286.52 442.61,286.52 440.85,287.80 441.52,289.88 439.76,288.60 437.99,289.88 438.67,287.80 436.90,286.52 439.08,286.52" fill="#ff0000"/><polygon points="442.83,284.45 443.51,286.52 445.69,286.52 443.92,287.80 444.60,289.88 442.83,288.60 441.07,289.88 441.74,287.80 439.98,286.52 442.16,286.52" fill="#ff0000"/><polygon points="445.91,284.45 446.58,286.52 448.76,286.52 447.00,287.80 447.67,289.88 445.91,288.60 444.14,289.88 444.82,287.80 443.06,286.52 445.23,286.52" fill="#ff0000"/><polygon points="448.98,284.45 449.66,286.52 451.84,286.52 450.07,287.80 450.75,289.88 448.98,288.60 447.22,289.88 447.89,287.80 446.13,286.52 448.31,286.52" fill="#ff0000"/><polygon points="452.06,284.45 452.73,286.52 454.91,286.52 453.15,287.80 453.82,289.88 452.06,288.60 450.30,289.88 450.97,287.80 449.21,286.52 451.39,286.52" fill="#ff0000"/><polygon points="455.14,284.45 455.81,286.52 457.99,286.52 456.23,287.80 456.90,289.88 455.14,288.60 453.37,289.88 454.05,287.80 452.28,286.52 454.46,286.52" fill="#ff0000"/><polygon points="458.21,284.45 458.89,286.52 461.07,286.52 459.30,287.80 459.98,289.88 458.21,288.60 456.45,289.88 457.12,287.80 455.36,286.52 457.54,286.52" fill="#ff0000"/><polygon points="461.29,284.45 461.96,286.52 464.14,286.52 462.38,287.80 463.05,289.88 461.29,288.60 459.53,289.88 460.20,287.80 458.44,286.52 460.62,286.52" fill="#ff0000"/><polygon points="464.37,284.45 465.04,286.52 467.22,286.52 465.46,287.80 466.13,289.88 464.37,288.60 462.60,289.88 463.28,287.80 461.51,286.52 463.69,286.52" fill="#ff0000"/><polygon points="467.44,284.45 468.12,286.52 470.30,286.52 468.53,287.80 469.21,289.88 467.44,288.60 465.68,289.88 466.35,287.80 464.59,286.52 466.77,286.52" fill="#ff0000"/><polygon points="470.52,284.45 471.19,286.52 473.37,286.52 471.61,287.80 472.28,289.88 470.52,288.60 468.76,289.88 469.43,287.80 467.67,286.52 469.85,286.52" fill="#ff0000"/><polygon points="473.60,284.45 474.27,286.52 476.45,286.52 474.69,287.80 475.36,289.88 473.60,288.60 471.83,289.88 472.51,287.80 470.74,286.52 472.92,286.52" fill="#ff0000"/><polygon points="476.67,284.45 477.35,286.52 479.53,286.52 477.76,287.80 478.44,289.88 476.67,288.60 474.91,289.88 475.58,287.80 473.82,286.52 476.00,286.52" fill="#ff0000"/><polygon points="479.75,285.21 480.42,287.28 482.60,287.28 480.84,288.56 481.51,290.64 479.75,289.36 477.99,290.64 478.66,288.56 476.90,287.28 479.08,287.28" fill="#ff0000"/><polygon points="482.83,285.97 483.50,288.04 485.68,288.04 483.91,289.32 484.59,291.40 482.83,290.12 481.06,291.40 481.74,289.32 479.97,288.04 482.15,288.04" fill="#ff0000"/><polygon points="485.90,286.73 486.57,288.80 488.75,288.80 486.99,290.08 487.66,292.16 485.90,290.88 484.14,292.16 484.81,290.08 483.05,288.80 485.23,288.80" fill="#ff0000"/><polygon points="488.98,287.49 489.65,289.56 491.83,289.56 490.07,290.84 490.74,292.92 488.98,291.64 487.21,292.92 487.89,290.84 486.12,289.56 488.30,289.56" fill="#ff0000"/><polygon points="492.05,288.25 492.73,290.32 494.91,290.32 493.14,291.60 493.82,293.68 492.05,292.39 490.29,293.68 490.96,291.60 489.20,290.32 491.38,290.32" fill="#ff0000"/><polygon points="495.13,289.01 495.80,291.08 497.98,291.08 496.22,292.36 496.89,294.44 495.13,293.15 493.37,294.44 494.04,292.36 492.28,291.08 494.46,291.08" fill="#ff0000"/><polygon points="498.21,289.77 498.88,291.84 501.06,291.84 499.30,293.12 499.97,295.20 498.21,293.91 496.44,295.20 497.12,293.12 495.35,291.84 497.53,291.84" fill="#ff0000"/><polygon points="501.28,290.53 501.96,292.60 504.14,292.60 502.37,293.88 503.05,295.96 501.28,294.67 499.52,295.96 500.19,293.88 498.43,292.60 500.61,292.60" fill="#ff0000"/><polygon points="504.36,291.29 505.03,293.36 507.21,293.36 505.45,294.64 506.12,296.72 504.36,295.43 502.60,296.72 503.27,294.64 501.51,293.36 503.69,293.36" fill="#ff0000"/><polygon points="507.44,292.05 508.11,294.12 510.29,294.12 508.53,295.40 509.20,297.47 507.44,296.19 505.67,297.47 506.35,295.40 504.58,294.12 506.76,294.12" fill="#ff0000"/><polygon points="510.51,292.81 511.19,294.88 513.37,294.88 511.60,296.16 512.28,298.23 510.51,296.95 508.75,298.23 509.42,296.16 507.66,294.88 509.84,294.88" fill="#ff0000"/><polygon points="513.59,293.57 514.26,295.64 516.44,295.64 514.68,296.92 515.35,298.99 513.59,297.71 511.83,298.99 512.50,296.92 510.74,295.64 512.92,295.64" fill="#ff0000"/></g>
<path d="M316.70 365.60v-3.40M353.62 365.60v-3.40M390.53 365.60v-3.40M427.45 365.60v-3.40M464.37 365.60v-3.40M501.28 365.60v-3.40M538.20 365.60v-3.40M316.70 365.60h3.40M316.70 326.53h3.40M316.70 287.45h3.40M316.70 248.38h3.40M316.70 209.30h3.40" stroke="#3a3a3a" stroke-width="0.9" fill="none"/>
<path d="M325.93 365.60v-1.90M335.16 365.60v-1.90M344.39 365.60v-1.90M362.85 365.60v-1.90M372.07 365.60v-1.90M381.30 365.60v-1.90M399.76 365.60v-1.90M408.99 365.60v-1.90M418.22 365.60v-1.90M436.68 365.60v-1.90M445.91 365.60v-1.90M455.14 365.60v-1.90M473.60 365.60v-1.90M482.83 365.60v-1.90M492.05 365.60v-1.90M510.51 365.60v-1.90M519.74 365.60v-1.90M528.97 365.60v-1.90M316.70 355.83h1.90M316.70 346.06h1.90M316.70 336.29h1.90M316.70 316.76h1.90M316.70 306.99h1.90M316.70 297.22h1.90M316.70 277.68h1.90M316.70 267.91h1.90M316.70 258.14h1.90M316.70 238.61h1.90M316.70 228.84h1.90M316.70 219.07h1.90" stroke="#3a3a3a" stroke-width="0.7" fill="none"/>
<rect x="316.70" y="209.30" width="221.50" height="156.30" fill="none" stroke="#3a3a3a" stroke-width="0.85"/>
<g font-family="DejaVu Sans, Liberation Sans, sans-serif" font-size="8.8" fill="#1a1a1a">
<text x="316.70" y="375.10" text-anchor="middle">0</text>
<text x="353.62" y="375.10" text-anchor="middle">60</text>
<text x="390.53" y="375.10" text-anchor="middle">120</text>
<text x="427.45" y="375.10" text-anchor="middle">180</text>
<text x="464.37" y="375.10" text-anchor="middle">240</text>
<text x="501.28" y="375.10" text-anchor="middle">300</text>
<text x="538.20" y="375.10" text-anchor="middle">360</text>
<text x="313.30" y="369.10" text-anchor="end">0</text>
<text x="313.30" y="330.03" text-anchor="end">60</text>
<text x="313.30" y="290.95" text-anchor="end">120</text>
<text x="313.30" y="251.88" text-anchor="end">180</text>
<text x="313.30" y="212.80" text-anchor="end">240</text>
</g>
<rect x="429.60" y="213.80" width="103.60" height="42.00" rx="1.6" fill="#fff" fill-opacity="0.8" stroke="#d0d0d0" stroke-width="0.8"/>
<path d="M432.60 221.20h19" stroke="#0000ff" stroke-width="1.1"/>
<polygon points="442.10,218.35 442.74,220.32 444.81,220.32 443.14,221.54 443.78,223.51 442.10,222.29 440.42,223.51 441.06,221.54 439.39,220.32 441.46,220.32" fill="#0000ff"/>
<text x="458.60" y="224.50" font-family="DejaVu Sans, Liberation Sans, sans-serif" font-size="8.9" fill="#1a1a1a">c = 1 mmol/L</text>
<path d="M432.60 234.30h19" stroke="#008000" stroke-width="1.1"/>
<polygon points="442.10,231.45 442.74,233.42 444.81,233.42 443.14,234.64 443.78,236.61 442.10,235.39 440.42,236.61 441.06,234.64 439.39,233.42 441.46,233.42" fill="#008000"/>
<text x="458.60" y="237.60" font-family="DejaVu Sans, Liberation Sans, sans-serif" font-size="8.9" fill="#1a1a1a">c = 10 mmol/L</text>
<path d="M432.60 247.40h19" stroke="#ff0000" stroke-width="1.1"/>
<polygon points="442.10,244.55 442.74,246.52 444.81,246.52 443.14,247.74 443.78,249.71 442.10,248.49 440.42,249.71 441.06,247.74 439.39,246.52 441.46,246.52" fill="#ff0000"/>
<text x="458.60" y="250.70" font-family="DejaVu Sans, Liberation Sans, sans-serif" font-size="8.9" fill="#1a1a1a">c = 100 mmol/L</text>
<text x="279.80" y="203.50" font-family="Liberation Serif, DejaVu Serif, serif" font-size="14" font-weight="bold" fill="#111">(d)</text>
<text x="427.0" y="388.9" text-anchor="middle" font-family="DejaVu Sans, Liberation Sans, sans-serif" font-size="11.9" fill="#1a1a1a">Elapsed Time (day)</text>
<text transform="translate(291.2 287.4) rotate(-90)" text-anchor="middle" font-family="DejaVu Sans, Liberation Sans, sans-serif" font-size="11.9" fill="#1a1a1a">Outflow (mL/day)</text>
<path d="M476.90 365.6V293.00" stroke="#8a1fd0" stroke-width="1.5" stroke-dasharray="5.3 3.1" fill="none"/>
<path d="M476.90 290.50l2.2 4.6h-4.4z" fill="#8a1fd0"/>
<path d="M514.30 365.6V301.50" stroke="#8a1fd0" stroke-width="1.5" stroke-dasharray="5.3 3.1" fill="none"/>
<path d="M514.30 299.00l2.2 4.6h-4.4z" fill="#8a1fd0"/>
<g font-family="Liberation Serif, DejaVu Serif, serif" font-size="13.2" fill="#111" text-anchor="middle">
<text x="459.3" y="327.3">260</text><text x="459.3" y="343.5">days</text>
<text x="498.8" y="327.3">320</text><text x="498.8" y="343.5">days</text>
</g>
<!-- panel e -->
<defs>
<linearGradient id="g1" x1="0" y1="0" x2="0" y2="1"><stop offset="0" stop-color="#263b96"/><stop offset="0.80" stop-color="#273e9a"/><stop offset="0.88" stop-color="#2f4fa6"/><stop offset="1" stop-color="#4f7cbf"/></linearGradient>
<linearGradient id="g2" x1="0" y1="0" x2="0" y2="1"><stop offset="0" stop-color="#263b96"/><stop offset="0.43" stop-color="#2844a0"/><stop offset="0.585" stop-color="#375aaa"/><stop offset="0.648" stop-color="#3e64b4"/><stop offset="0.715" stop-color="#4b73b9"/><stop offset="0.752" stop-color="#5a82be"/><stop offset="0.79" stop-color="#829bc3"/><stop offset="0.829" stop-color="#a5a5af"/><stop offset="0.855" stop-color="#c3a091"/><stop offset="0.888" stop-color="#d77d64"/><stop offset="0.919" stop-color="#cd503c"/><stop offset="0.958" stop-color="#b92828"/><stop offset="1" stop-color="#af0a1e"/></linearGradient>
<linearGradient id="g3" x1="0" y1="0" x2="0" y2="1"><stop offset="0" stop-color="#3e64b2"/><stop offset="0.275" stop-color="#4b73be"/><stop offset="0.428" stop-color="#5f87c3"/><stop offset="0.503" stop-color="#6e91c3"/><stop offset="0.557" stop-color="#7d9bc3"/><stop offset="0.62" stop-color="#96a5b9"/><stop offset="0.666" stop-color="#afa5a5"/><stop offset="0.698" stop-color="#cd9b87"/><stop offset="0.73" stop-color="#dc7d64"/><stop offset="0.762" stop-color="#d25a41"/><stop offset="0.80" stop-color="#be2d28"/><stop offset="0.83" stop-color="#ac0519"/><stop offset="1" stop-color="#aa001c"/></linearGradient>
<linearGradient id="cb" x1="0" y1="1" x2="0" y2="0"><stop offset="0" stop-color="#1e3cbe"/><stop offset="0.143" stop-color="#4678e6"/><stop offset="0.286" stop-color="#82affa"/><stop offset="0.43" stop-color="#bed2f0"/><stop offset="0.5" stop-color="#dcdce1"/><stop offset="0.571" stop-color="#ebd7cd"/><stop offset="0.714" stop-color="#f5a082"/><stop offset="0.857" stop-color="#eb5a41"/><stop offset="0.95" stop-color="#e13228"/><stop offset="1" stop-color="#c4121e"/></linearGradient>
</defs>
<path d="M68 451.1H492" stroke="#ff6483" stroke-width="1.1" stroke-dasharray="6 1.9" fill="none"/>
<path d="M68 515.0H492" stroke="#ff6483" stroke-width="1.1" stroke-dasharray="6 1.9" fill="none"/>
<path d="M68 579.0H492" stroke="#ff6483" stroke-width="1.1" stroke-dasharray="6 1.9" fill="none"/>
<path d="M68 642.6H492" stroke="#ff6483" stroke-width="1.1" stroke-dasharray="6 1.9" fill="none"/>
<rect x="115.7" y="451" width="63.3" height="254.6" fill="url(#g1)"/>
<rect x="251.9" y="451" width="63.3" height="254.6" fill="url(#g2)"/>
<rect x="390.4" y="451" width="62.8" height="254.6" fill="url(#g3)"/>
<path d="M67.4 707V425" stroke="#000" stroke-width="1.5" fill="none"/>
<path d="M67.4 421.6l2.1 4.8h-4.2z" fill="#000"/>
<path d="M66.65 706.3H488.5" stroke="#000" stroke-width="1.5" fill="none"/>
<path d="M492.3 706.3l-4.9 2v-4z" fill="#000"/>
<g font-family="Liberation Serif, DejaVu Serif, serif" font-size="13" fill="#111" text-anchor="end">
<text x="59.3" y="455.5">1.00</text>
<text x="59.3" y="519.4">0.75</text>
<text x="59.3" y="583.4">0.50</text>
<text x="59.3" y="647.0">0.25</text>
<text x="51.2" y="710.5">0</text>
</g>
<text transform="translate(27 579.5) rotate(-90)" text-anchor="middle" font-family="Liberation Serif, DejaVu Serif, serif" font-size="13" fill="#111">h/H</text>
<text x="3.30" y="427.00" font-family="Liberation Serif, DejaVu Serif, serif" font-size="14" font-weight="bold" fill="#111">(e)</text>
<g font-family="Liberation Serif, DejaVu Serif, serif" font-size="13.4" fill="#111">
<text x="165.2" y="426.6" font-style="normal" font-size="13.4">Volume Fraction of Fe(OH)</text>
<text x="313.6" y="429.2" font-style="normal" font-size="8.8">3</text>
<text x="322.1" y="426.6" font-style="normal" font-size="13.4">at</text>
<text x="335.6" y="426.6" font-style="italic" font-size="13.4">V</text>
<text x="342.6" y="429.2" font-style="normal" font-size="8.8">fw</text>
<text x="352.3" y="426.6" font-style="normal" font-size="13.4">:</text>
<text x="357.4" y="426.6" font-style="italic" font-size="13.4">V</text>
<text x="364.5" y="429.2" font-style="normal" font-size="8.8">ow</text>
<text x="378.8" y="426.6" font-style="normal" font-size="13.4">= 1:1</text>
<text y="728.8"><tspan x="99.9" font-style="italic">C</tspan><tspan x="108.4" font-size="9.4" dy="3.5">Fe(II)</tspan><tspan x="131.3" dy="-3.5">= 1 mmol/L</tspan></text>
<text y="728.8"><tspan x="233.0" font-style="italic">C</tspan><tspan x="241.5" font-size="9.4" dy="3.5">Fe(II)</tspan><tspan x="264.4" dy="-3.5">= 10 mmol/L</tspan></text>
<text y="728.8"><tspan x="368.3" font-style="italic">C</tspan><tspan x="376.8" font-size="9.4" dy="3.5">Fe(II)</tspan><tspan x="399.7" dy="-3.5">= 100 mmol/L</tspan></text>
</g>
<path d="M500.8 519V421.5H458" stroke="#ff1a1a" stroke-width="1.5" stroke-dasharray="4 3.7" fill="none"/>
<path d="M454.3 421.5l4.6 -2.1v4.2z" fill="#ff1a1a"/>
<rect x="497.3" y="520.5" width="7.2" height="118.5" fill="url(#cb)"/>
<g font-family="Liberation Sans, DejaVu Sans, sans-serif" font-size="7.1" fill="#333">
<path d="M503 520.50h5.7" stroke="#555" stroke-width="0.8"/>
<text x="510.8" y="522.80">0.35</text>
<path d="M503 537.43h5.7" stroke="#555" stroke-width="0.8"/>
<text x="510.8" y="539.73">0.30</text>
<path d="M503 554.36h5.7" stroke="#555" stroke-width="0.8"/>
<text x="510.8" y="556.66">0.25</text>
<path d="M503 571.29h5.7" stroke="#555" stroke-width="0.8"/>
<text x="510.8" y="573.59">0.20</text>
<path d="M503 588.21h5.7" stroke="#555" stroke-width="0.8"/>
<text x="510.8" y="590.51">0.15</text>
<path d="M503 605.14h5.7" stroke="#555" stroke-width="0.8"/>
<text x="510.8" y="607.44">0.10</text>
<path d="M503 622.07h5.7" stroke="#555" stroke-width="0.8"/>
<text x="510.8" y="624.37">0.050</text>
<path d="M503 639.00h5.7" stroke="#555" stroke-width="0.8"/>
<text x="510.8" y="641.30">0.0</text>
</g>
</svg>
</body>
</html>
